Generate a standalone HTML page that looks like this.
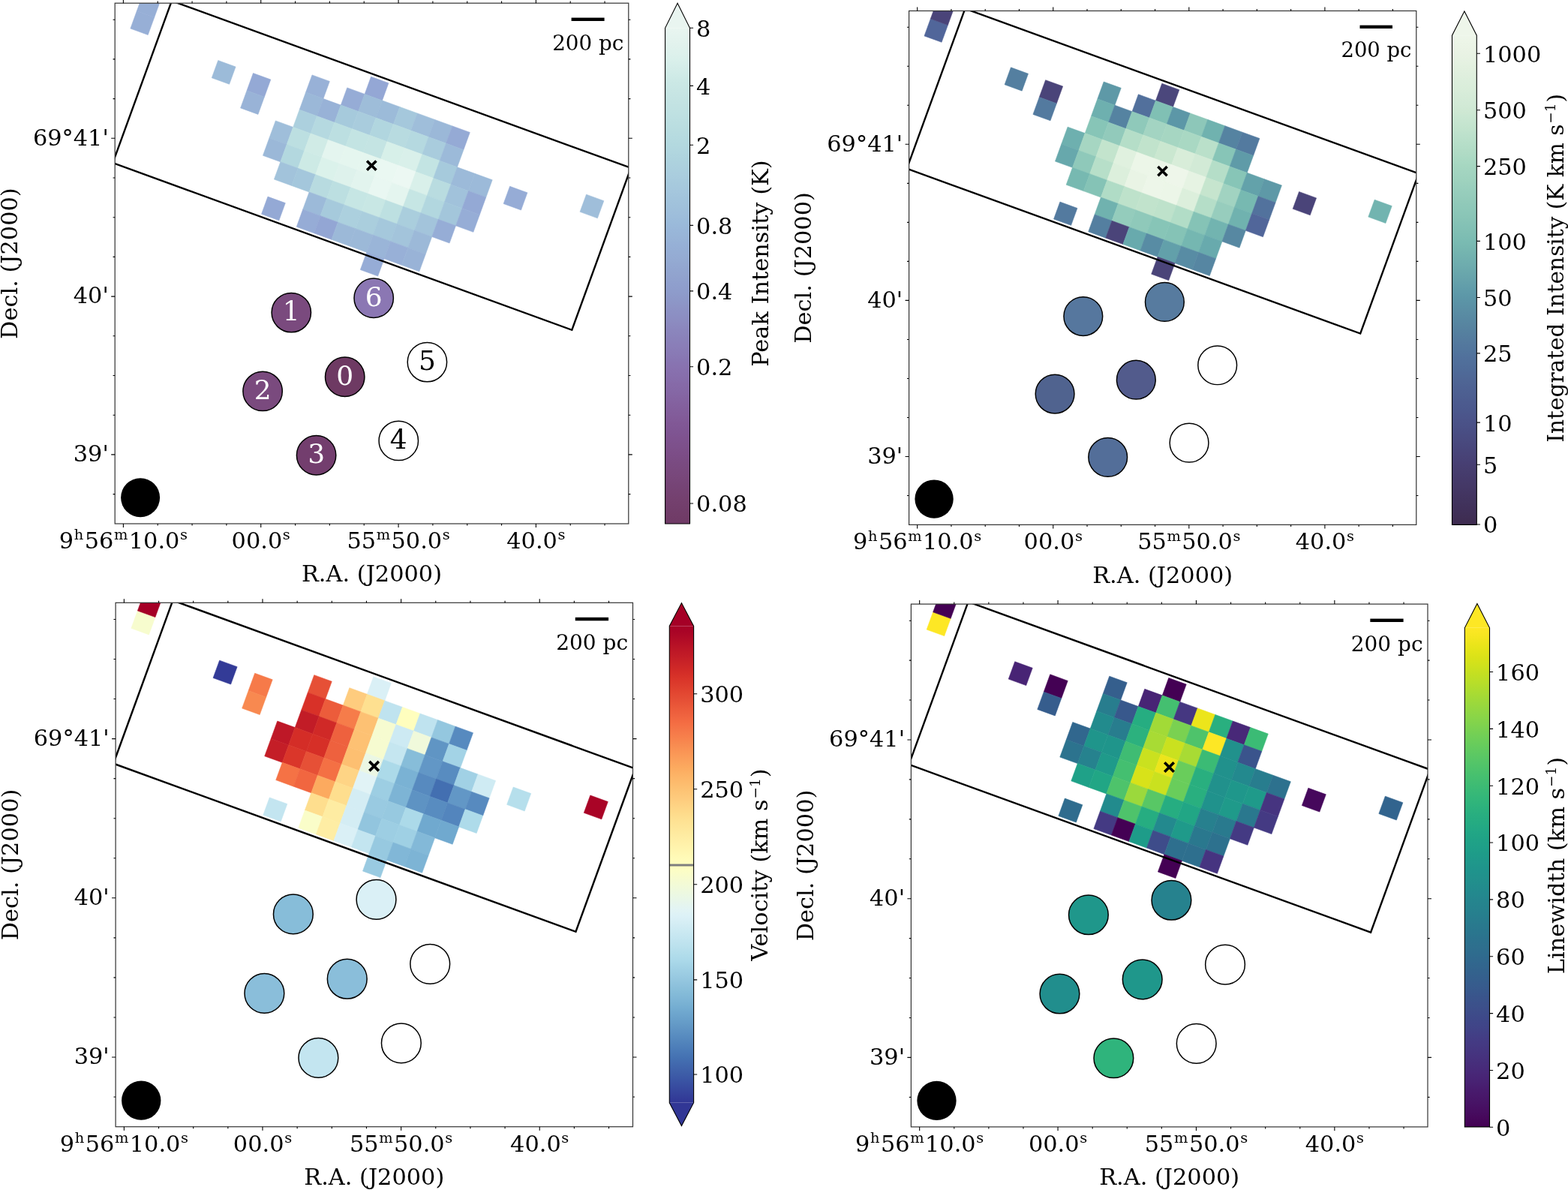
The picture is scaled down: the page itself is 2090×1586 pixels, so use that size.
<!DOCTYPE html><html><head><meta charset="utf-8"><title>Figure</title><style>html,body{margin:0;padding:0;background:#fff;}svg{display:block;}</style></head><body><svg xmlns="http://www.w3.org/2000/svg" width="2090" height="1586" viewBox="0 0 2090 1586" font-family="'DejaVu Serif', 'Liberation Serif', serif" fill="#000"><clipPath id="clip1"><rect x="153.2" y="4.2" width="684.6" height="693.8"/></clipPath>
<g clip-path="url(#clip1)"><g transform="matrix(1.00000,0,0,1.00000,0.000,0.000)">
<polygon points="494.54,102.25 517.91,110.75 509.48,133.92 486.11,125.42" fill="#94a7d5" stroke="#94a7d5" stroke-width="0.6"/>
<polygon points="416,99.9 439.37,108.41 430.94,131.58 407.57,123.07" fill="#98b1d7" stroke="#98b1d7" stroke-width="0.6"/>
<polygon points="462.74,116.91 486.11,125.42 477.68,148.59 454.31,140.08" fill="#96acd6" stroke="#96acd6" stroke-width="0.6"/>
<polygon points="486.11,125.42 509.48,133.92 501.05,157.1 477.68,148.59" fill="#9ebdd9" stroke="#9ebdd9" stroke-width="0.6"/>
<polygon points="509.48,133.92 532.85,142.43 524.42,165.6 501.05,157.1" fill="#9cbbd9" stroke="#9cbbd9" stroke-width="0.6"/>
<polygon points="532.85,142.43 556.22,150.94 547.79,174.11 524.42,165.6" fill="#a5c8dc" stroke="#a5c8dc" stroke-width="0.6"/>
<polygon points="556.22,150.94 579.59,159.44 571.16,182.62 547.79,174.11" fill="#9fbeda" stroke="#9fbeda" stroke-width="0.6"/>
<polygon points="579.59,159.44 602.96,167.95 594.53,191.12 571.16,182.62" fill="#9bb8d8" stroke="#9bb8d8" stroke-width="0.6"/>
<polygon points="602.96,167.95 626.33,176.45 617.9,199.63 594.53,191.12" fill="#95aad5" stroke="#95aad5" stroke-width="0.6"/>
<polygon points="407.57,123.07 430.94,131.58 422.5,154.75 399.13,146.25" fill="#9bb8d8" stroke="#9bb8d8" stroke-width="0.6"/>
<polygon points="430.94,131.58 454.31,140.08 445.87,163.26 422.5,154.75" fill="#98b2d7" stroke="#98b2d7" stroke-width="0.6"/>
<polygon points="454.31,140.08 477.68,148.59 469.24,171.76 445.87,163.26" fill="#a6cadc" stroke="#a6cadc" stroke-width="0.6"/>
<polygon points="477.68,148.59 501.05,157.1 492.61,180.27 469.24,171.76" fill="#a9ccdd" stroke="#a9ccdd" stroke-width="0.6"/>
<polygon points="501.05,157.1 524.42,165.6 515.98,188.78 492.61,180.27" fill="#b1d6df" stroke="#b1d6df" stroke-width="0.6"/>
<polygon points="524.42,165.6 547.79,174.11 539.35,197.28 515.98,188.78" fill="#b8dbe0" stroke="#b8dbe0" stroke-width="0.6"/>
<polygon points="547.79,174.11 571.16,182.62 562.72,205.79 539.35,197.28" fill="#b5d9e0" stroke="#b5d9e0" stroke-width="0.6"/>
<polygon points="571.16,182.62 594.53,191.12 586.09,214.29 562.72,205.79" fill="#a9ccdd" stroke="#a9ccdd" stroke-width="0.6"/>
<polygon points="594.53,191.12 617.9,199.63 609.46,222.8 586.09,214.29" fill="#9cbad9" stroke="#9cbad9" stroke-width="0.6"/>
<polygon points="399.13,146.25 422.5,154.75 414.07,177.92 390.7,169.42" fill="#acd0de" stroke="#acd0de" stroke-width="0.6"/>
<polygon points="422.5,154.75 445.87,163.26 437.44,186.43 414.07,177.92" fill="#b5d9e0" stroke="#b5d9e0" stroke-width="0.6"/>
<polygon points="445.87,163.26 469.24,171.76 460.81,194.94 437.44,186.43" fill="#bcdfe1" stroke="#bcdfe1" stroke-width="0.6"/>
<polygon points="469.24,171.76 492.61,180.27 484.18,203.44 460.81,194.94" fill="#c3e4e3" stroke="#c3e4e3" stroke-width="0.6"/>
<polygon points="492.61,180.27 515.98,188.78 507.55,211.95 484.18,203.44" fill="#c4e4e3" stroke="#c4e4e3" stroke-width="0.6"/>
<polygon points="515.98,188.78 539.35,197.28 530.92,220.45 507.55,211.95" fill="#d7f0e9" stroke="#d7f0e9" stroke-width="0.6"/>
<polygon points="539.35,197.28 562.72,205.79 554.29,228.96 530.92,220.45" fill="#d9f0ea" stroke="#d9f0ea" stroke-width="0.6"/>
<polygon points="562.72,205.79 586.09,214.29 577.66,237.47 554.29,228.96" fill="#c3e4e3" stroke="#c3e4e3" stroke-width="0.6"/>
<polygon points="586.09,214.29 609.46,222.8 601.03,245.97 577.66,237.47" fill="#a6cadc" stroke="#a6cadc" stroke-width="0.6"/>
<polygon points="609.46,222.8 632.83,231.31 624.4,254.48 601.03,245.97" fill="#9cbad9" stroke="#9cbad9" stroke-width="0.6"/>
<polygon points="632.83,231.31 656.2,239.81 647.77,262.98 624.4,254.48" fill="#9cbad9" stroke="#9cbad9" stroke-width="0.6"/>
<polygon points="367.33,160.91 390.7,169.42 382.26,192.59 358.89,184.09" fill="#9fbeda" stroke="#9fbeda" stroke-width="0.6"/>
<polygon points="390.7,169.42 414.07,177.92 405.63,201.1 382.26,192.59" fill="#bcdfe1" stroke="#bcdfe1" stroke-width="0.6"/>
<polygon points="414.07,177.92 437.44,186.43 429,209.6 405.63,201.1" fill="#d0ebe6" stroke="#d0ebe6" stroke-width="0.6"/>
<polygon points="437.44,186.43 460.81,194.94 452.37,218.11 429,209.6" fill="#e4f5ef" stroke="#e4f5ef" stroke-width="0.6"/>
<polygon points="460.81,194.94 484.18,203.44 475.74,226.62 452.37,218.11" fill="#e5f6ef" stroke="#e5f6ef" stroke-width="0.6"/>
<polygon points="484.18,203.44 507.55,211.95 499.11,235.12 475.74,226.62" fill="#e5f6ef" stroke="#e5f6ef" stroke-width="0.6"/>
<polygon points="507.55,211.95 530.92,220.45 522.48,243.63 499.11,235.12" fill="#eaf8f2" stroke="#eaf8f2" stroke-width="0.6"/>
<polygon points="530.92,220.45 554.29,228.96 545.85,252.13 522.48,243.63" fill="#ecf8f3" stroke="#ecf8f3" stroke-width="0.6"/>
<polygon points="554.29,228.96 577.66,237.47 569.22,260.64 545.85,252.13" fill="#d9f0ea" stroke="#d9f0ea" stroke-width="0.6"/>
<polygon points="577.66,237.47 601.03,245.97 592.59,269.15 569.22,260.64" fill="#b9dce0" stroke="#b9dce0" stroke-width="0.6"/>
<polygon points="601.03,245.97 624.4,254.48 615.96,277.65 592.59,269.15" fill="#a1c2db" stroke="#a1c2db" stroke-width="0.6"/>
<polygon points="624.4,254.48 647.77,262.98 639.33,286.16 615.96,277.65" fill="#94a9d5" stroke="#94a9d5" stroke-width="0.6"/>
<polygon points="358.89,184.09 382.26,192.59 373.83,215.76 350.46,207.26" fill="#9bb8d8" stroke="#9bb8d8" stroke-width="0.6"/>
<polygon points="382.26,192.59 405.63,201.1 397.2,224.27 373.83,215.76" fill="#b3d8df" stroke="#b3d8df" stroke-width="0.6"/>
<polygon points="405.63,201.1 429,209.6 420.57,232.78 397.2,224.27" fill="#cdeae5" stroke="#cdeae5" stroke-width="0.6"/>
<polygon points="429,209.6 452.37,218.11 443.94,241.28 420.57,232.78" fill="#dbf2eb" stroke="#dbf2eb" stroke-width="0.6"/>
<polygon points="452.37,218.11 475.74,226.62 467.31,249.79 443.94,241.28" fill="#def2ec" stroke="#def2ec" stroke-width="0.6"/>
<polygon points="475.74,226.62 499.11,235.12 490.68,258.29 467.31,249.79" fill="#e2f4ee" stroke="#e2f4ee" stroke-width="0.6"/>
<polygon points="499.11,235.12 522.48,243.63 514.05,266.8 490.68,258.29" fill="#e9f7f2" stroke="#e9f7f2" stroke-width="0.6"/>
<polygon points="522.48,243.63 545.85,252.13 537.42,275.31 514.05,266.8" fill="#e4f5ef" stroke="#e4f5ef" stroke-width="0.6"/>
<polygon points="545.85,252.13 569.22,260.64 560.79,283.81 537.42,275.31" fill="#c6e6e4" stroke="#c6e6e4" stroke-width="0.6"/>
<polygon points="569.22,260.64 592.59,269.15 584.16,292.32 560.79,283.81" fill="#b2d7df" stroke="#b2d7df" stroke-width="0.6"/>
<polygon points="592.59,269.15 615.96,277.65 607.53,300.82 584.16,292.32" fill="#a3c6db" stroke="#a3c6db" stroke-width="0.6"/>
<polygon points="615.96,277.65 639.33,286.16 630.9,309.33 607.53,300.82" fill="#96add6" stroke="#96add6" stroke-width="0.6"/>
<polygon points="373.83,215.76 397.2,224.27 388.76,247.44 365.39,238.94" fill="#a2c3db" stroke="#a2c3db" stroke-width="0.6"/>
<polygon points="397.2,224.27 420.57,232.78 412.14,255.95 388.76,247.44" fill="#a4c7dc" stroke="#a4c7dc" stroke-width="0.6"/>
<polygon points="420.57,232.78 443.94,241.28 435.51,264.46 412.14,255.95" fill="#b8dbe0" stroke="#b8dbe0" stroke-width="0.6"/>
<polygon points="443.94,241.28 467.31,249.79 458.88,272.96 435.51,264.46" fill="#bcdfe1" stroke="#bcdfe1" stroke-width="0.6"/>
<polygon points="467.31,249.79 490.68,258.29 482.25,281.47 458.88,272.96" fill="#c6e6e4" stroke="#c6e6e4" stroke-width="0.6"/>
<polygon points="490.68,258.29 514.05,266.8 505.62,289.97 482.25,281.47" fill="#c8e7e4" stroke="#c8e7e4" stroke-width="0.6"/>
<polygon points="514.05,266.8 537.42,275.31 528.99,298.48 505.62,289.97" fill="#bde0e1" stroke="#bde0e1" stroke-width="0.6"/>
<polygon points="537.42,275.31 560.79,283.81 552.36,306.99 528.99,298.48" fill="#aacedd" stroke="#aacedd" stroke-width="0.6"/>
<polygon points="560.79,283.81 584.16,292.32 575.73,315.49 552.36,306.99" fill="#a3c4db" stroke="#a3c4db" stroke-width="0.6"/>
<polygon points="584.16,292.32 607.53,300.82 599.1,324 575.73,315.49" fill="#96add6" stroke="#96add6" stroke-width="0.6"/>
<polygon points="412.14,255.95 435.51,264.46 427.07,287.63 403.7,279.12" fill="#9cbad9" stroke="#9cbad9" stroke-width="0.6"/>
<polygon points="435.51,264.46 458.88,272.96 450.44,296.13 427.07,287.63" fill="#a6cadc" stroke="#a6cadc" stroke-width="0.6"/>
<polygon points="458.88,272.96 482.25,281.47 473.81,304.64 450.44,296.13" fill="#acd0de" stroke="#acd0de" stroke-width="0.6"/>
<polygon points="482.25,281.47 505.62,289.97 497.18,313.15 473.81,304.64" fill="#aacedd" stroke="#aacedd" stroke-width="0.6"/>
<polygon points="505.62,289.97 528.99,298.48 520.55,321.65 497.18,313.15" fill="#a5c8dc" stroke="#a5c8dc" stroke-width="0.6"/>
<polygon points="528.99,298.48 552.36,306.99 543.92,330.16 520.55,321.65" fill="#a3c4db" stroke="#a3c4db" stroke-width="0.6"/>
<polygon points="552.36,306.99 575.73,315.49 567.29,338.66 543.92,330.16" fill="#9cb9d8" stroke="#9cb9d8" stroke-width="0.6"/>
<polygon points="403.7,279.12 427.07,287.63 418.64,310.8 395.27,302.29" fill="#96acd6" stroke="#96acd6" stroke-width="0.6"/>
<polygon points="427.07,287.63 450.44,296.13 442.01,319.31 418.64,310.8" fill="#93a6d4" stroke="#93a6d4" stroke-width="0.6"/>
<polygon points="450.44,296.13 473.81,304.64 465.38,327.81 442.01,319.31" fill="#9cb9d8" stroke="#9cb9d8" stroke-width="0.6"/>
<polygon points="473.81,304.64 497.18,313.15 488.75,336.32 465.38,327.81" fill="#9cb9d8" stroke="#9cb9d8" stroke-width="0.6"/>
<polygon points="497.18,313.15 520.55,321.65 512.12,344.82 488.75,336.32" fill="#9ab5d8" stroke="#9ab5d8" stroke-width="0.6"/>
<polygon points="520.55,321.65 543.92,330.16 535.49,353.33 512.12,344.82" fill="#98b0d7" stroke="#98b0d7" stroke-width="0.6"/>
<polygon points="543.92,330.16 567.29,338.66 558.86,361.84 535.49,353.33" fill="#99b3d7" stroke="#99b3d7" stroke-width="0.6"/>
<polygon points="488.75,336.32 512.12,344.82 503.68,368 480.31,359.49" fill="#96acd6" stroke="#96acd6" stroke-width="0.6"/>
<polygon points="356.96,262.11 380.33,270.62 371.9,293.79 348.53,285.28" fill="#94a9d5" stroke="#94a9d5" stroke-width="0.6"/>
<polygon points="337.46,97.55 360.83,106.06 352.39,129.23 329.02,120.73" fill="#94a9d5" stroke="#94a9d5" stroke-width="0.6"/>
<polygon points="329.02,120.73 352.39,129.23 343.96,152.41 320.59,143.9" fill="#99b3d7" stroke="#99b3d7" stroke-width="0.6"/>
<polygon points="290.72,80.54 314.09,89.05 305.65,112.22 282.28,103.72" fill="#9cbbd9" stroke="#9cbbd9" stroke-width="0.6"/>
<polygon points="679.57,248.32 702.94,256.82 694.51,280 671.14,271.49" fill="#96acd6" stroke="#96acd6" stroke-width="0.6"/>
<polygon points="781.49,259.17 804.86,267.68 796.42,290.85 773.05,282.34" fill="#9fbeda" stroke="#9fbeda" stroke-width="0.6"/>
<polygon points="182.3,14.84 205.67,23.35 197.23,46.52 173.86,38.01" fill="#97afd6" stroke="#97afd6" stroke-width="0.6"/>
<polygon points="190.73,-8.33 214.1,0.17 205.67,23.35 182.3,14.84" fill="#97afd6" stroke="#97afd6" stroke-width="0.6"/>
<polygon points="228.9,1.2 840.9,223.9 762.3,439.8 150.3,217.1" fill="none" stroke="#000" stroke-width="2.4" stroke-linejoin="miter"/>
<circle cx="388.3" cy="416.6" r="26.2" fill="#7a4a7e" stroke="#000" stroke-width="1.5"/>
<text x="388.3" y="427.1" font-size="36" text-anchor="middle" fill="#ffffff">1</text>
<circle cx="498.2" cy="397.2" r="26.2" fill="#8b77b3" stroke="#000" stroke-width="1.5"/>
<text x="498.2" y="407.7" font-size="36" text-anchor="middle" fill="#ffffff">6</text>
<circle cx="569.4" cy="482.6" r="26.2" fill="#ffffff" stroke="#000" stroke-width="1.5"/>
<text x="569.4" y="493.1" font-size="36" text-anchor="middle" fill="#000000">5</text>
<circle cx="459.7" cy="502.3" r="26.2" fill="#6e3a63" stroke="#000" stroke-width="1.5"/>
<text x="459.7" y="512.8" font-size="36" text-anchor="middle" fill="#ffffff">0</text>
<circle cx="350.1" cy="521.4" r="26.2" fill="#7a4a7e" stroke="#000" stroke-width="1.5"/>
<text x="350.1" y="531.9" font-size="36" text-anchor="middle" fill="#ffffff">2</text>
<circle cx="531.3" cy="587.4" r="26.2" fill="#ffffff" stroke="#000" stroke-width="1.5"/>
<text x="531.3" y="597.9" font-size="36" text-anchor="middle" fill="#000000">4</text>
<circle cx="421.6" cy="606.8" r="26.2" fill="#733e6e" stroke="#000" stroke-width="1.5"/>
<text x="421.6" y="617.3" font-size="36" text-anchor="middle" fill="#ffffff">3</text>
<path d="M489.1,214.4L501.5,226.8M489.1,226.8L501.5,214.4" stroke="#000" stroke-width="3.6"/>
<circle cx="187.1" cy="663.2" r="26.0" fill="#000"/>
<rect x="761.6" y="23.6" width="44" height="4.4" fill="#000"/>
<text x="783.8" y="66.6" font-size="27.8" text-anchor="middle" >200 pc</text>
</g></g>
<rect x="153.2" y="4.2" width="684.6" height="693.8" fill="none" stroke="#333" stroke-width="1.2"/>
<text x="164.4" y="730.8" font-size="30.4" text-anchor="middle" >9<tspan dx="0.6" dy="-11.7" font-size="19.46">h</tspan><tspan dx="1.4" dy="11.7">56<tspan dx="0.6" dy="-11.7" font-size="19.46">m</tspan><tspan dx="1.4" dy="11.7">10.0<tspan dx="0.6" dy="-11.7" font-size="19.46">s</tspan><tspan dx="1.4" dy="11.7"></tspan></tspan></tspan></text>
<text x="347.73" y="730.8" font-size="30.4" text-anchor="middle" >00.0<tspan dx="0.6" dy="-11.7" font-size="19.46">s</tspan><tspan dx="1.4" dy="11.7"></tspan></text>
<text x="531.06" y="730.8" font-size="30.4" text-anchor="middle" >55<tspan dx="0.6" dy="-11.7" font-size="19.46">m</tspan><tspan dx="1.4" dy="11.7">50.0<tspan dx="0.6" dy="-11.7" font-size="19.46">s</tspan><tspan dx="1.4" dy="11.7"></tspan></tspan></text>
<text x="714.39" y="730.8" font-size="30.4" text-anchor="middle" >40.0<tspan dx="0.6" dy="-11.7" font-size="19.46">s</tspan><tspan dx="1.4" dy="11.7"></tspan></text>
<text x="144.8" y="193.51" font-size="30.4" text-anchor="end" >69°41'</text>
<text x="144.8" y="404.31" font-size="30.4" text-anchor="end" >40'</text>
<text x="144.8" y="615.12" font-size="30.4" text-anchor="end" >39'</text>
<path d="M164.4,698v5M164.4,4.2v-5M210.23,698v2.6M210.23,4.2v-2.6M256.07,698v2.6M256.07,4.2v-2.6M301.9,698v2.6M301.9,4.2v-2.6M347.73,698v5M347.73,4.2v-5M393.56,698v2.6M393.56,4.2v-2.6M439.4,698v2.6M439.4,4.2v-2.6M485.23,698v2.6M485.23,4.2v-2.6M531.06,698v5M531.06,4.2v-5M576.89,698v2.6M576.89,4.2v-2.6M622.73,698v2.6M622.73,4.2v-2.6M668.56,698v2.6M668.56,4.2v-2.6M714.39,698v5M714.39,4.2v-5M760.22,698v2.6M760.22,4.2v-2.6M806.06,698v2.6M806.06,4.2v-2.6M153.2,26.21h-2.6M837.8,26.21h2.6M153.2,78.91h-2.6M837.8,78.91h2.6M153.2,131.61h-2.6M837.8,131.61h2.6M153.2,184.31h-5M837.8,184.31h5M153.2,237.01h-2.6M837.8,237.01h2.6M153.2,289.71h-2.6M837.8,289.71h2.6M153.2,342.41h-2.6M837.8,342.41h2.6M153.2,395.11h-5M837.8,395.11h5M153.2,447.82h-2.6M837.8,447.82h2.6M153.2,500.52h-2.6M837.8,500.52h2.6M153.2,553.22h-2.6M837.8,553.22h2.6M153.2,605.92h-5M837.8,605.92h5M153.2,658.62h-2.6M837.8,658.62h2.6" stroke="#000" stroke-width="1.1" fill="none"/>
<text x="495.5" y="775.2" font-size="30.4" text-anchor="middle" >R.A. (J2000)</text>
<text x="0" y="0" font-size="30.4" text-anchor="middle" transform="translate(22.9,351.1) rotate(-90)">Decl. (J2000)</text>
<linearGradient id="cg1" x1="0" y1="698" x2="0" y2="37.3" gradientUnits="userSpaceOnUse"><stop offset="0.0000" stop-color="#6f3a66"/><stop offset="0.0156" stop-color="#713c68"/><stop offset="0.0312" stop-color="#723e6b"/><stop offset="0.0469" stop-color="#74406e"/><stop offset="0.0625" stop-color="#754272"/><stop offset="0.0781" stop-color="#764476"/><stop offset="0.0938" stop-color="#78477a"/><stop offset="0.1094" stop-color="#79497e"/><stop offset="0.1250" stop-color="#7a4b82"/><stop offset="0.1406" stop-color="#7c4d87"/><stop offset="0.1562" stop-color="#7d508b"/><stop offset="0.1719" stop-color="#7e528f"/><stop offset="0.1875" stop-color="#7f5593"/><stop offset="0.2031" stop-color="#815896"/><stop offset="0.2188" stop-color="#825c9a"/><stop offset="0.2344" stop-color="#835f9d"/><stop offset="0.2500" stop-color="#8463a1"/><stop offset="0.2656" stop-color="#8567a5"/><stop offset="0.2812" stop-color="#866aa8"/><stop offset="0.2969" stop-color="#876eac"/><stop offset="0.3125" stop-color="#8871af"/><stop offset="0.3281" stop-color="#8875b2"/><stop offset="0.3438" stop-color="#897ab5"/><stop offset="0.3594" stop-color="#8a7eb8"/><stop offset="0.3750" stop-color="#8a82ba"/><stop offset="0.3906" stop-color="#8b86bd"/><stop offset="0.4062" stop-color="#8c8bc0"/><stop offset="0.4219" stop-color="#8c8fc3"/><stop offset="0.4375" stop-color="#8d93c5"/><stop offset="0.4531" stop-color="#8d98c8"/><stop offset="0.4688" stop-color="#8e9ccb"/><stop offset="0.4844" stop-color="#8f9fcd"/><stop offset="0.5000" stop-color="#91a3ce"/><stop offset="0.5156" stop-color="#92a6d0"/><stop offset="0.5312" stop-color="#94aad2"/><stop offset="0.5469" stop-color="#95add4"/><stop offset="0.5625" stop-color="#96b0d6"/><stop offset="0.5781" stop-color="#98b4d7"/><stop offset="0.5938" stop-color="#99b7d9"/><stop offset="0.6094" stop-color="#9bbbda"/><stop offset="0.6250" stop-color="#9ebedb"/><stop offset="0.6406" stop-color="#a0c1db"/><stop offset="0.6562" stop-color="#a2c4dc"/><stop offset="0.6719" stop-color="#a5c7dd"/><stop offset="0.6875" stop-color="#a7cadd"/><stop offset="0.7031" stop-color="#aacdde"/><stop offset="0.7188" stop-color="#acd0de"/><stop offset="0.7344" stop-color="#aed3de"/><stop offset="0.7500" stop-color="#b1d6df"/><stop offset="0.7656" stop-color="#b3d9df"/><stop offset="0.7812" stop-color="#b6dbe0"/><stop offset="0.7969" stop-color="#b9dde0"/><stop offset="0.8125" stop-color="#bcdfe1"/><stop offset="0.8281" stop-color="#bfe1e2"/><stop offset="0.8438" stop-color="#c2e2e2"/><stop offset="0.8594" stop-color="#c5e4e3"/><stop offset="0.8750" stop-color="#c8e6e4"/><stop offset="0.8906" stop-color="#cbe8e5"/><stop offset="0.9062" stop-color="#d0ebe7"/><stop offset="0.9219" stop-color="#d5ede9"/><stop offset="0.9375" stop-color="#daf0eb"/><stop offset="0.9531" stop-color="#def1ec"/><stop offset="0.9688" stop-color="#e2f2ed"/><stop offset="0.9844" stop-color="#e5f4ef"/><stop offset="1.0000" stop-color="#e9f5f0"/></linearGradient>
<rect x="886.6" y="37.3" width="32.9" height="660.7" fill="url(#cg1)"/>
<polygon points="886.6,37.3 903.05,4.2 919.5,37.3" fill="#e9f5f0"/>
<path d="M886.6,698L919.5,698L919.5,37.3L903.05,4.2L886.6,37.3Z" fill="none" stroke="#000" stroke-width="1.1" stroke-linejoin="miter"/>
<text x="928.1" y="48.7" font-size="30.4" text-anchor="start" >8</text>
<text x="928.1" y="125.8" font-size="30.4" text-anchor="start" >4</text>
<text x="928.1" y="204.7" font-size="30.4" text-anchor="start" >2</text>
<text x="928.1" y="311.8" font-size="30.4" text-anchor="start" >0.8</text>
<text x="928.1" y="399.3" font-size="30.4" text-anchor="start" >0.4</text>
<text x="928.1" y="500.1" font-size="30.4" text-anchor="start" >0.2</text>
<text x="928.1" y="682.4" font-size="30.4" text-anchor="start" >0.08</text>
<path d="M919.5,37.3h4.6M919.5,114.4h4.6M919.5,193.3h4.6M919.5,300.4h4.6M919.5,387.9h4.6M919.5,488.7h4.6M919.5,671h4.6" stroke="#000" stroke-width="1.1"/>
<text x="0" y="0" font-size="30.4" text-anchor="middle" transform="translate(1023.8,351.1) rotate(-90)">Peak Intensity (K)</text>
<clipPath id="clip2"><rect x="1211.6" y="14.5" width="676.2" height="684.9"/></clipPath>
<g clip-path="url(#clip2)"><g transform="matrix(0.98773,0,0,0.98717,1060.280,10.354)">
<polygon points="494.54,102.25 517.91,110.75 509.48,133.92 486.11,125.42" fill="#4b477c" stroke="#4b477c" stroke-width="0.6"/>
<polygon points="416,99.9 439.37,108.41 430.94,131.58 407.57,123.07" fill="#5e99a7" stroke="#5e99a7" stroke-width="0.6"/>
<polygon points="462.74,116.91 486.11,125.42 477.68,148.59 454.31,140.08" fill="#52709c" stroke="#52709c" stroke-width="0.6"/>
<polygon points="486.11,125.42 509.48,133.92 501.05,157.1 477.68,148.59" fill="#80c0b4" stroke="#80c0b4" stroke-width="0.6"/>
<polygon points="509.48,133.92 532.85,142.43 524.42,165.6 501.05,157.1" fill="#5c97a7" stroke="#5c97a7" stroke-width="0.6"/>
<polygon points="532.85,142.43 556.22,150.94 547.79,174.11 524.42,165.6" fill="#8dc7b9" stroke="#8dc7b9" stroke-width="0.6"/>
<polygon points="556.22,150.94 579.59,159.44 571.16,182.62 547.79,174.11" fill="#70b2af" stroke="#70b2af" stroke-width="0.6"/>
<polygon points="579.59,159.44 602.96,167.95 594.53,191.12 571.16,182.62" fill="#5583a1" stroke="#5583a1" stroke-width="0.6"/>
<polygon points="602.96,167.95 626.33,176.45 617.9,199.63 594.53,191.12" fill="#537a9f" stroke="#537a9f" stroke-width="0.6"/>
<polygon points="407.57,123.07 430.94,131.58 422.5,154.75 399.13,146.25" fill="#6eb0af" stroke="#6eb0af" stroke-width="0.6"/>
<polygon points="430.94,131.58 454.31,140.08 445.87,163.26 422.5,154.75" fill="#5583a1" stroke="#5583a1" stroke-width="0.6"/>
<polygon points="454.31,140.08 477.68,148.59 469.24,171.76 445.87,163.26" fill="#8fc9ba" stroke="#8fc9ba" stroke-width="0.6"/>
<polygon points="477.68,148.59 501.05,157.1 492.61,180.27 469.24,171.76" fill="#a3d4c2" stroke="#a3d4c2" stroke-width="0.6"/>
<polygon points="501.05,157.1 524.42,165.6 515.98,188.78 492.61,180.27" fill="#a6d6c2" stroke="#a6d6c2" stroke-width="0.6"/>
<polygon points="524.42,165.6 547.79,174.11 539.35,197.28 515.98,188.78" fill="#a9d8c3" stroke="#a9d8c3" stroke-width="0.6"/>
<polygon points="547.79,174.11 571.16,182.62 562.72,205.79 539.35,197.28" fill="#bae0ca" stroke="#bae0ca" stroke-width="0.6"/>
<polygon points="571.16,182.62 594.53,191.12 586.09,214.29 562.72,205.79" fill="#87c5b7" stroke="#87c5b7" stroke-width="0.6"/>
<polygon points="594.53,191.12 617.9,199.63 609.46,222.8 586.09,214.29" fill="#5f9ba8" stroke="#5f9ba8" stroke-width="0.6"/>
<polygon points="399.13,146.25 422.5,154.75 414.07,177.92 390.7,169.42" fill="#87c5b7" stroke="#87c5b7" stroke-width="0.6"/>
<polygon points="422.5,154.75 445.87,163.26 437.44,186.43 414.07,177.92" fill="#92cabb" stroke="#92cabb" stroke-width="0.6"/>
<polygon points="445.87,163.26 469.24,171.76 460.81,194.94 437.44,186.43" fill="#b5dec8" stroke="#b5dec8" stroke-width="0.6"/>
<polygon points="469.24,171.76 492.61,180.27 484.18,203.44 460.81,194.94" fill="#c1e3cc" stroke="#c1e3cc" stroke-width="0.6"/>
<polygon points="492.61,180.27 515.98,188.78 507.55,211.95 484.18,203.44" fill="#cae7d0" stroke="#cae7d0" stroke-width="0.6"/>
<polygon points="515.98,188.78 539.35,197.28 530.92,220.45 507.55,211.95" fill="#d8edd9" stroke="#d8edd9" stroke-width="0.6"/>
<polygon points="539.35,197.28 562.72,205.79 554.29,228.96 530.92,220.45" fill="#d2ead6" stroke="#d2ead6" stroke-width="0.6"/>
<polygon points="562.72,205.79 586.09,214.29 577.66,237.47 554.29,228.96" fill="#b5dec8" stroke="#b5dec8" stroke-width="0.6"/>
<polygon points="586.09,214.29 609.46,222.8 601.03,245.97 577.66,237.47" fill="#87c5b7" stroke="#87c5b7" stroke-width="0.6"/>
<polygon points="609.46,222.8 632.83,231.31 624.4,254.48 601.03,245.97" fill="#63a2aa" stroke="#63a2aa" stroke-width="0.6"/>
<polygon points="632.83,231.31 656.2,239.81 647.77,262.98 624.4,254.48" fill="#5e99a7" stroke="#5e99a7" stroke-width="0.6"/>
<polygon points="367.33,160.91 390.7,169.42 382.26,192.59 358.89,184.09" fill="#6eb0af" stroke="#6eb0af" stroke-width="0.6"/>
<polygon points="390.7,169.42 414.07,177.92 405.63,201.1 382.26,192.59" fill="#a6d6c2" stroke="#a6d6c2" stroke-width="0.6"/>
<polygon points="414.07,177.92 437.44,186.43 429,209.6 405.63,201.1" fill="#c3e4cd" stroke="#c3e4cd" stroke-width="0.6"/>
<polygon points="437.44,186.43 460.81,194.94 452.37,218.11 429,209.6" fill="#e0f1df" stroke="#e0f1df" stroke-width="0.6"/>
<polygon points="460.81,194.94 484.18,203.44 475.74,226.62 452.37,218.11" fill="#ecf6e8" stroke="#ecf6e8" stroke-width="0.6"/>
<polygon points="484.18,203.44 507.55,211.95 499.11,235.12 475.74,226.62" fill="#ecf6e8" stroke="#ecf6e8" stroke-width="0.6"/>
<polygon points="507.55,211.95 530.92,220.45 522.48,243.63 499.11,235.12" fill="#eef6ea" stroke="#eef6ea" stroke-width="0.6"/>
<polygon points="530.92,220.45 554.29,228.96 545.85,252.13 522.48,243.63" fill="#e6f3e3" stroke="#e6f3e3" stroke-width="0.6"/>
<polygon points="554.29,228.96 577.66,237.47 569.22,260.64 545.85,252.13" fill="#c6e5ce" stroke="#c6e5ce" stroke-width="0.6"/>
<polygon points="577.66,237.47 601.03,245.97 592.59,269.15 569.22,260.64" fill="#a1d3c1" stroke="#a1d3c1" stroke-width="0.6"/>
<polygon points="601.03,245.97 624.4,254.48 615.96,277.65 592.59,269.15" fill="#77b9b1" stroke="#77b9b1" stroke-width="0.6"/>
<polygon points="624.4,254.48 647.77,262.98 639.33,286.16 615.96,277.65" fill="#52729d" stroke="#52729d" stroke-width="0.6"/>
<polygon points="358.89,184.09 382.26,192.59 373.83,215.76 350.46,207.26" fill="#67a8ac" stroke="#67a8ac" stroke-width="0.6"/>
<polygon points="382.26,192.59 405.63,201.1 397.2,224.27 373.83,215.76" fill="#8fc9ba" stroke="#8fc9ba" stroke-width="0.6"/>
<polygon points="405.63,201.1 429,209.6 420.57,232.78 397.2,224.27" fill="#b7dfc9" stroke="#b7dfc9" stroke-width="0.6"/>
<polygon points="429,209.6 452.37,218.11 443.94,241.28 420.57,232.78" fill="#dcefdc" stroke="#dcefdc" stroke-width="0.6"/>
<polygon points="452.37,218.11 475.74,226.62 467.31,249.79 443.94,241.28" fill="#e9f4e5" stroke="#e9f4e5" stroke-width="0.6"/>
<polygon points="475.74,226.62 499.11,235.12 490.68,258.29 467.31,249.79" fill="#edf6e9" stroke="#edf6e9" stroke-width="0.6"/>
<polygon points="499.11,235.12 522.48,243.63 514.05,266.8 490.68,258.29" fill="#ecf6e8" stroke="#ecf6e8" stroke-width="0.6"/>
<polygon points="522.48,243.63 545.85,252.13 537.42,275.31 514.05,266.8" fill="#dcefdc" stroke="#dcefdc" stroke-width="0.6"/>
<polygon points="545.85,252.13 569.22,260.64 560.79,283.81 537.42,275.31" fill="#b5dec8" stroke="#b5dec8" stroke-width="0.6"/>
<polygon points="569.22,260.64 592.59,269.15 584.16,292.32 560.79,283.81" fill="#97cdbd" stroke="#97cdbd" stroke-width="0.6"/>
<polygon points="592.59,269.15 615.96,277.65 607.53,300.82 584.16,292.32" fill="#70b2af" stroke="#70b2af" stroke-width="0.6"/>
<polygon points="615.96,277.65 639.33,286.16 630.9,309.33 607.53,300.82" fill="#51669a" stroke="#51669a" stroke-width="0.6"/>
<polygon points="373.83,215.76 397.2,224.27 388.76,247.44 365.39,238.94" fill="#77b9b1" stroke="#77b9b1" stroke-width="0.6"/>
<polygon points="397.2,224.27 420.57,232.78 412.14,255.95 388.76,247.44" fill="#85c3b6" stroke="#85c3b6" stroke-width="0.6"/>
<polygon points="420.57,232.78 443.94,241.28 435.51,264.46 412.14,255.95" fill="#b0dcc6" stroke="#b0dcc6" stroke-width="0.6"/>
<polygon points="443.94,241.28 467.31,249.79 458.88,272.96 435.51,264.46" fill="#bee2cb" stroke="#bee2cb" stroke-width="0.6"/>
<polygon points="467.31,249.79 490.68,258.29 482.25,281.47 458.88,272.96" fill="#c1e3cc" stroke="#c1e3cc" stroke-width="0.6"/>
<polygon points="490.68,258.29 514.05,266.8 505.62,289.97 482.25,281.47" fill="#bee2cb" stroke="#bee2cb" stroke-width="0.6"/>
<polygon points="514.05,266.8 537.42,275.31 528.99,298.48 505.62,289.97" fill="#b2ddc7" stroke="#b2ddc7" stroke-width="0.6"/>
<polygon points="537.42,275.31 560.79,283.81 552.36,306.99 528.99,298.48" fill="#85c3b6" stroke="#85c3b6" stroke-width="0.6"/>
<polygon points="560.79,283.81 584.16,292.32 575.73,315.49 552.36,306.99" fill="#72b4b0" stroke="#72b4b0" stroke-width="0.6"/>
<polygon points="584.16,292.32 607.53,300.82 599.1,324 575.73,315.49" fill="#5788a2" stroke="#5788a2" stroke-width="0.6"/>
<polygon points="412.14,255.95 435.51,264.46 427.07,287.63 403.7,279.12" fill="#70b2af" stroke="#70b2af" stroke-width="0.6"/>
<polygon points="435.51,264.46 458.88,272.96 450.44,296.13 427.07,287.63" fill="#94ccbc" stroke="#94ccbc" stroke-width="0.6"/>
<polygon points="458.88,272.96 482.25,281.47 473.81,304.64 450.44,296.13" fill="#8fc9ba" stroke="#8fc9ba" stroke-width="0.6"/>
<polygon points="482.25,281.47 505.62,289.97 497.18,313.15 473.81,304.64" fill="#87c5b7" stroke="#87c5b7" stroke-width="0.6"/>
<polygon points="505.62,289.97 528.99,298.48 520.55,321.65 497.18,313.15" fill="#85c3b6" stroke="#85c3b6" stroke-width="0.6"/>
<polygon points="528.99,298.48 552.36,306.99 543.92,330.16 520.55,321.65" fill="#75b7b1" stroke="#75b7b1" stroke-width="0.6"/>
<polygon points="552.36,306.99 575.73,315.49 567.29,338.66 543.92,330.16" fill="#68aaad" stroke="#68aaad" stroke-width="0.6"/>
<polygon points="403.7,279.12 427.07,287.63 418.64,310.8 395.27,302.29" fill="#547fa0" stroke="#547fa0" stroke-width="0.6"/>
<polygon points="427.07,287.63 450.44,296.13 442.01,319.31 418.64,310.8" fill="#4a4479" stroke="#4a4479" stroke-width="0.6"/>
<polygon points="450.44,296.13 473.81,304.64 465.38,327.81 442.01,319.31" fill="#68aaad" stroke="#68aaad" stroke-width="0.6"/>
<polygon points="473.81,304.64 497.18,313.15 488.75,336.32 465.38,327.81" fill="#588ca4" stroke="#588ca4" stroke-width="0.6"/>
<polygon points="497.18,313.15 520.55,321.65 512.12,344.82 488.75,336.32" fill="#62a0aa" stroke="#62a0aa" stroke-width="0.6"/>
<polygon points="520.55,321.65 543.92,330.16 535.49,353.33 512.12,344.82" fill="#588ca4" stroke="#588ca4" stroke-width="0.6"/>
<polygon points="543.92,330.16 567.29,338.66 558.86,361.84 535.49,353.33" fill="#5686a2" stroke="#5686a2" stroke-width="0.6"/>
<polygon points="488.75,336.32 512.12,344.82 503.68,368 480.31,359.49" fill="#4a4479" stroke="#4a4479" stroke-width="0.6"/>
<polygon points="356.96,262.11 380.33,270.62 371.9,293.79 348.53,285.28" fill="#537a9f" stroke="#537a9f" stroke-width="0.6"/>
<polygon points="337.46,97.55 360.83,106.06 352.39,129.23 329.02,120.73" fill="#4a4479" stroke="#4a4479" stroke-width="0.6"/>
<polygon points="329.02,120.73 352.39,129.23 343.96,152.41 320.59,143.9" fill="#537a9f" stroke="#537a9f" stroke-width="0.6"/>
<polygon points="290.72,80.54 314.09,89.05 305.65,112.22 282.28,103.72" fill="#547fa0" stroke="#547fa0" stroke-width="0.6"/>
<polygon points="679.57,248.32 702.94,256.82 694.51,280 671.14,271.49" fill="#4a4479" stroke="#4a4479" stroke-width="0.6"/>
<polygon points="781.49,259.17 804.86,267.68 796.42,290.85 773.05,282.34" fill="#72b4b0" stroke="#72b4b0" stroke-width="0.6"/>
<polygon points="182.3,14.84 205.67,23.35 197.23,46.52 173.86,38.01" fill="#51669a" stroke="#51669a" stroke-width="0.6"/>
<polygon points="190.73,-8.33 214.1,0.17 205.67,23.35 182.3,14.84" fill="#4a4479" stroke="#4a4479" stroke-width="0.6"/>
<polygon points="228.9,1.2 840.9,223.9 762.3,439.8 150.3,217.1" fill="none" stroke="#000" stroke-width="2.4" stroke-linejoin="miter"/>
<circle cx="388.3" cy="416.6" r="26.2" fill="#56779e" stroke="#000" stroke-width="1.5"/>
<circle cx="498.2" cy="397.2" r="26.2" fill="#577b9f" stroke="#000" stroke-width="1.5"/>
<circle cx="569.4" cy="482.6" r="26.2" fill="#ffffff" stroke="#000" stroke-width="1.5"/>
<circle cx="459.7" cy="502.3" r="26.2" fill="#525b8c" stroke="#000" stroke-width="1.5"/>
<circle cx="350.1" cy="521.4" r="26.2" fill="#50638f" stroke="#000" stroke-width="1.5"/>
<circle cx="531.3" cy="587.4" r="26.2" fill="#ffffff" stroke="#000" stroke-width="1.5"/>
<circle cx="421.6" cy="606.8" r="26.2" fill="#536e99" stroke="#000" stroke-width="1.5"/>
<path d="M489.1,214.4L501.5,226.8M489.1,226.8L501.5,214.4" stroke="#000" stroke-width="3.6"/>
<circle cx="187.1" cy="663.2" r="26.0" fill="#000"/>
<rect x="761.6" y="23.6" width="44" height="4.4" fill="#000"/>
<text x="783.8" y="66.6" font-size="27.8" text-anchor="middle" >200 pc</text>
</g></g>
<rect x="1211.6" y="14.5" width="676.2" height="684.9" fill="none" stroke="#333" stroke-width="1.2"/>
<text x="1222.66" y="732.2" font-size="30.4" text-anchor="middle" >9<tspan dx="0.6" dy="-11.7" font-size="19.46">h</tspan><tspan dx="1.4" dy="11.7">56<tspan dx="0.6" dy="-11.7" font-size="19.46">m</tspan><tspan dx="1.4" dy="11.7">10.0<tspan dx="0.6" dy="-11.7" font-size="19.46">s</tspan><tspan dx="1.4" dy="11.7"></tspan></tspan></tspan></text>
<text x="1403.74" y="732.2" font-size="30.4" text-anchor="middle" >00.0<tspan dx="0.6" dy="-11.7" font-size="19.46">s</tspan><tspan dx="1.4" dy="11.7"></tspan></text>
<text x="1584.82" y="732.2" font-size="30.4" text-anchor="middle" >55<tspan dx="0.6" dy="-11.7" font-size="19.46">m</tspan><tspan dx="1.4" dy="11.7">50.0<tspan dx="0.6" dy="-11.7" font-size="19.46">s</tspan><tspan dx="1.4" dy="11.7"></tspan></tspan></text>
<text x="1765.91" y="732.2" font-size="30.4" text-anchor="middle" >40.0<tspan dx="0.6" dy="-11.7" font-size="19.46">s</tspan><tspan dx="1.4" dy="11.7"></tspan></text>
<text x="1203.2" y="201.5" font-size="30.4" text-anchor="end" >69°41'</text>
<text x="1203.2" y="409.6" font-size="30.4" text-anchor="end" >40'</text>
<text x="1203.2" y="617.7" font-size="30.4" text-anchor="end" >39'</text>
<path d="M1222.66,699.4v5M1222.66,14.5v-5M1267.93,699.4v2.6M1267.93,14.5v-2.6M1313.2,699.4v2.6M1313.2,14.5v-2.6M1358.47,699.4v2.6M1358.47,14.5v-2.6M1403.74,699.4v5M1403.74,14.5v-5M1449.01,699.4v2.6M1449.01,14.5v-2.6M1494.28,699.4v2.6M1494.28,14.5v-2.6M1539.55,699.4v2.6M1539.55,14.5v-2.6M1584.82,699.4v5M1584.82,14.5v-5M1630.09,699.4v2.6M1630.09,14.5v-2.6M1675.37,699.4v2.6M1675.37,14.5v-2.6M1720.64,699.4v2.6M1720.64,14.5v-2.6M1765.91,699.4v5M1765.91,14.5v-5M1811.18,699.4v2.6M1811.18,14.5v-2.6M1856.45,699.4v2.6M1856.45,14.5v-2.6M1211.6,36.23h-2.6M1887.8,36.23h2.6M1211.6,88.25h-2.6M1887.8,88.25h2.6M1211.6,140.28h-2.6M1887.8,140.28h2.6M1211.6,192.3h-5M1887.8,192.3h5M1211.6,244.33h-2.6M1887.8,244.33h2.6M1211.6,296.35h-2.6M1887.8,296.35h2.6M1211.6,348.38h-2.6M1887.8,348.38h2.6M1211.6,400.4h-5M1887.8,400.4h5M1211.6,452.43h-2.6M1887.8,452.43h2.6M1211.6,504.45h-2.6M1887.8,504.45h2.6M1211.6,556.48h-2.6M1887.8,556.48h2.6M1211.6,608.5h-5M1887.8,608.5h5M1211.6,660.53h-2.6M1887.8,660.53h2.6" stroke="#000" stroke-width="1.1" fill="none"/>
<text x="1549.7" y="776.6" font-size="30.4" text-anchor="middle" >R.A. (J2000)</text>
<text x="0" y="0" font-size="30.4" text-anchor="middle" transform="translate(1081.3,356.95) rotate(-90)">Decl. (J2000)</text>
<linearGradient id="cg2" x1="0" y1="699.4" x2="0" y2="47.2" gradientUnits="userSpaceOnUse"><stop offset="0.0000" stop-color="#3e2b50"/><stop offset="0.0156" stop-color="#3f2e54"/><stop offset="0.0312" stop-color="#403059"/><stop offset="0.0469" stop-color="#41335d"/><stop offset="0.0625" stop-color="#433561"/><stop offset="0.0781" stop-color="#443866"/><stop offset="0.0938" stop-color="#453a6a"/><stop offset="0.1094" stop-color="#463d6e"/><stop offset="0.1250" stop-color="#473f73"/><stop offset="0.1406" stop-color="#484377"/><stop offset="0.1562" stop-color="#48467b"/><stop offset="0.1719" stop-color="#494a7f"/><stop offset="0.1875" stop-color="#494d83"/><stop offset="0.2031" stop-color="#4a5187"/><stop offset="0.2188" stop-color="#4b548a"/><stop offset="0.2344" stop-color="#4b588d"/><stop offset="0.2500" stop-color="#4c5b8f"/><stop offset="0.2656" stop-color="#4d5f91"/><stop offset="0.2812" stop-color="#4e6293"/><stop offset="0.2969" stop-color="#4f6695"/><stop offset="0.3125" stop-color="#4f6a98"/><stop offset="0.3281" stop-color="#506e9a"/><stop offset="0.3438" stop-color="#51719c"/><stop offset="0.3594" stop-color="#52769d"/><stop offset="0.3750" stop-color="#547a9e"/><stop offset="0.3906" stop-color="#557f9f"/><stop offset="0.4062" stop-color="#5784a0"/><stop offset="0.4219" stop-color="#5889a2"/><stop offset="0.4375" stop-color="#5a8ea4"/><stop offset="0.4531" stop-color="#5b93a6"/><stop offset="0.4688" stop-color="#5d98a8"/><stop offset="0.4844" stop-color="#619daa"/><stop offset="0.5000" stop-color="#66a2ab"/><stop offset="0.5156" stop-color="#6aa7ac"/><stop offset="0.5312" stop-color="#6eacae"/><stop offset="0.5469" stop-color="#72b1af"/><stop offset="0.5625" stop-color="#76b6b0"/><stop offset="0.5781" stop-color="#7abbb2"/><stop offset="0.5938" stop-color="#7fbeb3"/><stop offset="0.6094" stop-color="#83c1b5"/><stop offset="0.6250" stop-color="#88c4b6"/><stop offset="0.6406" stop-color="#8cc7b8"/><stop offset="0.6562" stop-color="#90c9b9"/><stop offset="0.6719" stop-color="#95ccbb"/><stop offset="0.6875" stop-color="#99cfbd"/><stop offset="0.7031" stop-color="#9ed2be"/><stop offset="0.7188" stop-color="#a2d4c0"/><stop offset="0.7344" stop-color="#a6d7c1"/><stop offset="0.7500" stop-color="#acdac4"/><stop offset="0.7656" stop-color="#b2dcc6"/><stop offset="0.7812" stop-color="#b7dfc9"/><stop offset="0.7969" stop-color="#bde1cc"/><stop offset="0.8125" stop-color="#c3e4ce"/><stop offset="0.8281" stop-color="#c8e6d1"/><stop offset="0.8438" stop-color="#cee8d3"/><stop offset="0.8594" stop-color="#d2ead6"/><stop offset="0.8750" stop-color="#d5ebd8"/><stop offset="0.8906" stop-color="#d9edda"/><stop offset="0.9062" stop-color="#dceedc"/><stop offset="0.9219" stop-color="#e0efde"/><stop offset="0.9375" stop-color="#e3f1e0"/><stop offset="0.9531" stop-color="#e7f2e3"/><stop offset="0.9688" stop-color="#eaf3e5"/><stop offset="0.9844" stop-color="#ecf5e7"/><stop offset="1.0000" stop-color="#eef6ea"/></linearGradient>
<rect x="1935.5" y="47.2" width="32.8" height="652.2" fill="url(#cg2)"/>
<polygon points="1935.5,47.2 1951.9,15 1968.3,47.2" fill="#eef6ea"/>
<path d="M1935.5,699.4L1968.3,699.4L1968.3,47.2L1951.9,15L1935.5,47.2Z" fill="none" stroke="#000" stroke-width="1.1" stroke-linejoin="miter"/>
<text x="1976.9" y="82.7" font-size="30.4" text-anchor="start" >1000</text>
<text x="1976.9" y="158.1" font-size="30.4" text-anchor="start" >500</text>
<text x="1976.9" y="233" font-size="30.4" text-anchor="start" >250</text>
<text x="1976.9" y="332.8" font-size="30.4" text-anchor="start" >100</text>
<text x="1976.9" y="407.9" font-size="30.4" text-anchor="start" >50</text>
<text x="1976.9" y="482.3" font-size="30.4" text-anchor="start" >25</text>
<text x="1976.9" y="574.5" font-size="30.4" text-anchor="start" >10</text>
<text x="1976.9" y="630.7" font-size="30.4" text-anchor="start" >5</text>
<text x="1976.9" y="710.4" font-size="30.4" text-anchor="start" >0</text>
<path d="M1968.3,71.3h4.6M1968.3,146.7h4.6M1968.3,221.6h4.6M1968.3,321.4h4.6M1968.3,396.5h4.6M1968.3,470.9h4.6M1968.3,563.1h4.6M1968.3,619.3h4.6M1968.3,699h4.6" stroke="#000" stroke-width="1.1"/>
<text x="0" y="0" font-size="29.6" text-anchor="middle" transform="translate(2084,357.3) rotate(-90)">Integrated Intensity (K km s<tspan dx="0.8" dy="-10.8" font-size="18.54">−1</tspan><tspan dx="1" dy="10.8">)</tspan></text>
<clipPath id="clip3"><rect x="154.1" y="803.3" width="689.4" height="698.4"/></clipPath>
<g clip-path="url(#clip3)"><g transform="matrix(1.00701,0,0,1.00663,-0.174,799.072)">
<polygon points="494.54,102.25 517.91,110.75 509.48,133.92 486.11,125.42" fill="#daf0f6" stroke="#daf0f6" stroke-width="0.6"/>
<polygon points="416,99.9 439.37,108.41 430.94,131.58 407.57,123.07" fill="#e65036" stroke="#e65036" stroke-width="0.6"/>
<polygon points="462.74,116.91 486.11,125.42 477.68,148.59 454.31,140.08" fill="#fecc7e" stroke="#fecc7e" stroke-width="0.6"/>
<polygon points="486.11,125.42 509.48,133.92 501.05,157.1 477.68,148.59" fill="#fee090" stroke="#fee090" stroke-width="0.6"/>
<polygon points="509.48,133.92 532.85,142.43 524.42,165.6 501.05,157.1" fill="#bfe3ef" stroke="#bfe3ef" stroke-width="0.6"/>
<polygon points="532.85,142.43 556.22,150.94 547.79,174.11 524.42,165.6" fill="#fffebe" stroke="#fffebe" stroke-width="0.6"/>
<polygon points="556.22,150.94 579.59,159.44 571.16,182.62 547.79,174.11" fill="#bfe3ef" stroke="#bfe3ef" stroke-width="0.6"/>
<polygon points="579.59,159.44 602.96,167.95 594.53,191.12 571.16,182.62" fill="#94c7df" stroke="#94c7df" stroke-width="0.6"/>
<polygon points="602.96,167.95 626.33,176.45 617.9,199.63 594.53,191.12" fill="#578abf" stroke="#578abf" stroke-width="0.6"/>
<polygon points="407.57,123.07 430.94,131.58 422.5,154.75 399.13,146.25" fill="#d83128" stroke="#d83128" stroke-width="0.6"/>
<polygon points="430.94,131.58 454.31,140.08 445.87,163.26 422.5,154.75" fill="#ec5c3b" stroke="#ec5c3b" stroke-width="0.6"/>
<polygon points="454.31,140.08 477.68,148.59 469.24,171.76 445.87,163.26" fill="#f67c4a" stroke="#f67c4a" stroke-width="0.6"/>
<polygon points="477.68,148.59 501.05,157.1 492.61,180.27 469.24,171.76" fill="#fdc173" stroke="#fdc173" stroke-width="0.6"/>
<polygon points="501.05,157.1 524.42,165.6 515.98,188.78 492.61,180.27" fill="#f6fbd0" stroke="#f6fbd0" stroke-width="0.6"/>
<polygon points="524.42,165.6 547.79,174.11 539.35,197.28 515.98,188.78" fill="#cdeaf3" stroke="#cdeaf3" stroke-width="0.6"/>
<polygon points="547.79,174.11 571.16,182.62 562.72,205.79 539.35,197.28" fill="#f0f9db" stroke="#f0f9db" stroke-width="0.6"/>
<polygon points="571.16,182.62 594.53,191.12 586.09,214.29 562.72,205.79" fill="#6095c4" stroke="#6095c4" stroke-width="0.6"/>
<polygon points="594.53,191.12 617.9,199.63 609.46,222.8 586.09,214.29" fill="#a3d3e6" stroke="#a3d3e6" stroke-width="0.6"/>
<polygon points="399.13,146.25 422.5,154.75 414.07,177.92 390.7,169.42" fill="#c21c27" stroke="#c21c27" stroke-width="0.6"/>
<polygon points="422.5,154.75 445.87,163.26 437.44,186.43 414.07,177.92" fill="#d02927" stroke="#d02927" stroke-width="0.6"/>
<polygon points="445.87,163.26 469.24,171.76 460.81,194.94 437.44,186.43" fill="#ee613e" stroke="#ee613e" stroke-width="0.6"/>
<polygon points="469.24,171.76 492.61,180.27 484.18,203.44 460.81,194.94" fill="#fdc173" stroke="#fdc173" stroke-width="0.6"/>
<polygon points="492.61,180.27 515.98,188.78 507.55,211.95 484.18,203.44" fill="#f6fbd0" stroke="#f6fbd0" stroke-width="0.6"/>
<polygon points="515.98,188.78 539.35,197.28 530.92,220.45 507.55,211.95" fill="#c5e6f0" stroke="#c5e6f0" stroke-width="0.6"/>
<polygon points="539.35,197.28 562.72,205.79 554.29,228.96 530.92,220.45" fill="#87bdd9" stroke="#87bdd9" stroke-width="0.6"/>
<polygon points="562.72,205.79 586.09,214.29 577.66,237.47 554.29,228.96" fill="#6297c6" stroke="#6297c6" stroke-width="0.6"/>
<polygon points="586.09,214.29 609.46,222.8 601.03,245.97 577.66,237.47" fill="#588cc0" stroke="#588cc0" stroke-width="0.6"/>
<polygon points="609.46,222.8 632.83,231.31 624.4,254.48 601.03,245.97" fill="#a1d1e5" stroke="#a1d1e5" stroke-width="0.6"/>
<polygon points="632.83,231.31 656.2,239.81 647.77,262.98 624.4,254.48" fill="#cfebf3" stroke="#cfebf3" stroke-width="0.6"/>
<polygon points="367.33,160.91 390.7,169.42 382.26,192.59 358.89,184.09" fill="#be1827" stroke="#be1827" stroke-width="0.6"/>
<polygon points="390.7,169.42 414.07,177.92 405.63,201.1 382.26,192.59" fill="#d42d27" stroke="#d42d27" stroke-width="0.6"/>
<polygon points="414.07,177.92 437.44,186.43 429,209.6 405.63,201.1" fill="#d62f27" stroke="#d62f27" stroke-width="0.6"/>
<polygon points="437.44,186.43 460.81,194.94 452.37,218.11 429,209.6" fill="#ee613e" stroke="#ee613e" stroke-width="0.6"/>
<polygon points="460.81,194.94 484.18,203.44 475.74,226.62 452.37,218.11" fill="#fdbf71" stroke="#fdbf71" stroke-width="0.6"/>
<polygon points="484.18,203.44 507.55,211.95 499.11,235.12 475.74,226.62" fill="#ebf7e4" stroke="#ebf7e4" stroke-width="0.6"/>
<polygon points="507.55,211.95 530.92,220.45 522.48,243.63 499.11,235.12" fill="#acdae9" stroke="#acdae9" stroke-width="0.6"/>
<polygon points="530.92,220.45 554.29,228.96 545.85,252.13 522.48,243.63" fill="#7ab2d4" stroke="#7ab2d4" stroke-width="0.6"/>
<polygon points="554.29,228.96 577.66,237.47 569.22,260.64 545.85,252.13" fill="#578abf" stroke="#578abf" stroke-width="0.6"/>
<polygon points="577.66,237.47 601.03,245.97 592.59,269.15 569.22,260.64" fill="#436fb1" stroke="#436fb1" stroke-width="0.6"/>
<polygon points="601.03,245.97 624.4,254.48 615.96,277.65 592.59,269.15" fill="#6297c6" stroke="#6297c6" stroke-width="0.6"/>
<polygon points="624.4,254.48 647.77,262.98 639.33,286.16 615.96,277.65" fill="#578abf" stroke="#578abf" stroke-width="0.6"/>
<polygon points="358.89,184.09 382.26,192.59 373.83,215.76 350.46,207.26" fill="#c41e27" stroke="#c41e27" stroke-width="0.6"/>
<polygon points="382.26,192.59 405.63,201.1 397.2,224.27 373.83,215.76" fill="#da362a" stroke="#da362a" stroke-width="0.6"/>
<polygon points="405.63,201.1 429,209.6 420.57,232.78 397.2,224.27" fill="#e65036" stroke="#e65036" stroke-width="0.6"/>
<polygon points="429,209.6 452.37,218.11 443.94,241.28 420.57,232.78" fill="#f47044" stroke="#f47044" stroke-width="0.6"/>
<polygon points="452.37,218.11 475.74,226.62 467.31,249.79 443.94,241.28" fill="#fed485" stroke="#fed485" stroke-width="0.6"/>
<polygon points="475.74,226.62 499.11,235.12 490.68,258.29 467.31,249.79" fill="#e1f3f6" stroke="#e1f3f6" stroke-width="0.6"/>
<polygon points="499.11,235.12 522.48,243.63 514.05,266.8 490.68,258.29" fill="#9dcee3" stroke="#9dcee3" stroke-width="0.6"/>
<polygon points="522.48,243.63 545.85,252.13 537.42,275.31 514.05,266.8" fill="#7db4d5" stroke="#7db4d5" stroke-width="0.6"/>
<polygon points="545.85,252.13 569.22,260.64 560.79,283.81 537.42,275.31" fill="#5e93c3" stroke="#5e93c3" stroke-width="0.6"/>
<polygon points="569.22,260.64 592.59,269.15 584.16,292.32 560.79,283.81" fill="#588cc0" stroke="#588cc0" stroke-width="0.6"/>
<polygon points="592.59,269.15 615.96,277.65 607.53,300.82 584.16,292.32" fill="#5385bd" stroke="#5385bd" stroke-width="0.6"/>
<polygon points="615.96,277.65 639.33,286.16 630.9,309.33 607.53,300.82" fill="#aedbea" stroke="#aedbea" stroke-width="0.6"/>
<polygon points="373.83,215.76 397.2,224.27 388.76,247.44 365.39,238.94" fill="#f57245" stroke="#f57245" stroke-width="0.6"/>
<polygon points="397.2,224.27 420.57,232.78 412.14,255.95 388.76,247.44" fill="#f16640" stroke="#f16640" stroke-width="0.6"/>
<polygon points="420.57,232.78 443.94,241.28 435.51,264.46 412.14,255.95" fill="#fcaa5f" stroke="#fcaa5f" stroke-width="0.6"/>
<polygon points="443.94,241.28 467.31,249.79 458.88,272.96 435.51,264.46" fill="#fede8e" stroke="#fede8e" stroke-width="0.6"/>
<polygon points="467.31,249.79 490.68,258.29 482.25,281.47 458.88,272.96" fill="#d4edf4" stroke="#d4edf4" stroke-width="0.6"/>
<polygon points="490.68,258.29 514.05,266.8 505.62,289.97 482.25,281.47" fill="#99cae1" stroke="#99cae1" stroke-width="0.6"/>
<polygon points="514.05,266.8 537.42,275.31 528.99,298.48 505.62,289.97" fill="#97c9e0" stroke="#97c9e0" stroke-width="0.6"/>
<polygon points="537.42,275.31 560.79,283.81 552.36,306.99 528.99,298.48" fill="#acdae9" stroke="#acdae9" stroke-width="0.6"/>
<polygon points="560.79,283.81 584.16,292.32 575.73,315.49 552.36,306.99" fill="#70a9cf" stroke="#70a9cf" stroke-width="0.6"/>
<polygon points="584.16,292.32 607.53,300.82 599.1,324 575.73,315.49" fill="#70a9cf" stroke="#70a9cf" stroke-width="0.6"/>
<polygon points="412.14,255.95 435.51,264.46 427.07,287.63 403.7,279.12" fill="#fede8e" stroke="#fede8e" stroke-width="0.6"/>
<polygon points="435.51,264.46 458.88,272.96 450.44,296.13 427.07,287.63" fill="#feeca2" stroke="#feeca2" stroke-width="0.6"/>
<polygon points="458.88,272.96 482.25,281.47 473.81,304.64 450.44,296.13" fill="#d4edf4" stroke="#d4edf4" stroke-width="0.6"/>
<polygon points="482.25,281.47 505.62,289.97 497.18,313.15 473.81,304.64" fill="#92c5de" stroke="#92c5de" stroke-width="0.6"/>
<polygon points="505.62,289.97 528.99,298.48 520.55,321.65 497.18,313.15" fill="#9dcee3" stroke="#9dcee3" stroke-width="0.6"/>
<polygon points="528.99,298.48 552.36,306.99 543.92,330.16 520.55,321.65" fill="#9fd0e4" stroke="#9fd0e4" stroke-width="0.6"/>
<polygon points="552.36,306.99 575.73,315.49 567.29,338.66 543.92,330.16" fill="#83b9d8" stroke="#83b9d8" stroke-width="0.6"/>
<polygon points="403.7,279.12 427.07,287.63 418.64,310.8 395.27,302.29" fill="#fafdc9" stroke="#fafdc9" stroke-width="0.6"/>
<polygon points="427.07,287.63 450.44,296.13 442.01,319.31 418.64,310.8" fill="#feeda4" stroke="#feeda4" stroke-width="0.6"/>
<polygon points="450.44,296.13 473.81,304.64 465.38,327.81 442.01,319.31" fill="#daf0f6" stroke="#daf0f6" stroke-width="0.6"/>
<polygon points="473.81,304.64 497.18,313.15 488.75,336.32 465.38,327.81" fill="#c3e5f0" stroke="#c3e5f0" stroke-width="0.6"/>
<polygon points="497.18,313.15 520.55,321.65 512.12,344.82 488.75,336.32" fill="#97c9e0" stroke="#97c9e0" stroke-width="0.6"/>
<polygon points="520.55,321.65 543.92,330.16 535.49,353.33 512.12,344.82" fill="#81b7d7" stroke="#81b7d7" stroke-width="0.6"/>
<polygon points="543.92,330.16 567.29,338.66 558.86,361.84 535.49,353.33" fill="#7db4d5" stroke="#7db4d5" stroke-width="0.6"/>
<polygon points="488.75,336.32 512.12,344.82 503.68,368 480.31,359.49" fill="#99cae1" stroke="#99cae1" stroke-width="0.6"/>
<polygon points="356.96,262.11 380.33,270.62 371.9,293.79 348.53,285.28" fill="#c3e5f0" stroke="#c3e5f0" stroke-width="0.6"/>
<polygon points="337.46,97.55 360.83,106.06 352.39,129.23 329.02,120.73" fill="#f67a49" stroke="#f67a49" stroke-width="0.6"/>
<polygon points="329.02,120.73 352.39,129.23 343.96,152.41 320.59,143.9" fill="#f88950" stroke="#f88950" stroke-width="0.6"/>
<polygon points="290.72,80.54 314.09,89.05 305.65,112.22 282.28,103.72" fill="#333b97" stroke="#333b97" stroke-width="0.6"/>
<polygon points="679.57,248.32 702.94,256.82 694.51,280 671.14,271.49" fill="#b6dfec" stroke="#b6dfec" stroke-width="0.6"/>
<polygon points="781.49,259.17 804.86,267.68 796.42,290.85 773.05,282.34" fill="#a90426" stroke="#a90426" stroke-width="0.6"/>
<polygon points="182.3,14.84 205.67,23.35 197.23,46.52 173.86,38.01" fill="#f7fcce" stroke="#f7fcce" stroke-width="0.6"/>
<polygon points="190.73,-8.33 214.1,0.17 205.67,23.35 182.3,14.84" fill="#a50026" stroke="#a50026" stroke-width="0.6"/>
<polygon points="228.9,1.2 840.9,223.9 762.3,439.8 150.3,217.1" fill="none" stroke="#000" stroke-width="2.4" stroke-linejoin="miter"/>
<circle cx="388.3" cy="416.6" r="26.2" fill="#87bdd9" stroke="#000" stroke-width="1.5"/>
<circle cx="498.2" cy="397.2" r="26.2" fill="#daf0f6" stroke="#000" stroke-width="1.5"/>
<circle cx="569.4" cy="482.6" r="26.2" fill="#ffffff" stroke="#000" stroke-width="1.5"/>
<circle cx="459.7" cy="502.3" r="26.2" fill="#8abeda" stroke="#000" stroke-width="1.5"/>
<circle cx="350.1" cy="521.4" r="26.2" fill="#8abeda" stroke="#000" stroke-width="1.5"/>
<circle cx="531.3" cy="587.4" r="26.2" fill="#ffffff" stroke="#000" stroke-width="1.5"/>
<circle cx="421.6" cy="606.8" r="26.2" fill="#c3e5f0" stroke="#000" stroke-width="1.5"/>
<path d="M489.1,214.4L501.5,226.8M489.1,226.8L501.5,214.4" stroke="#000" stroke-width="3.6"/>
<circle cx="187.1" cy="663.2" r="26.0" fill="#000"/>
<rect x="761.6" y="23.6" width="44" height="4.4" fill="#000"/>
<text x="783.8" y="66.6" font-size="27.8" text-anchor="middle" >200 pc</text>
</g></g>
<rect x="154.1" y="803.3" width="689.4" height="698.4" fill="none" stroke="#333" stroke-width="1.2"/>
<text x="165.38" y="1534.5" font-size="30.4" text-anchor="middle" >9<tspan dx="0.6" dy="-11.7" font-size="19.46">h</tspan><tspan dx="1.4" dy="11.7">56<tspan dx="0.6" dy="-11.7" font-size="19.46">m</tspan><tspan dx="1.4" dy="11.7">10.0<tspan dx="0.6" dy="-11.7" font-size="19.46">s</tspan><tspan dx="1.4" dy="11.7"></tspan></tspan></tspan></text>
<text x="349.99" y="1534.5" font-size="30.4" text-anchor="middle" >00.0<tspan dx="0.6" dy="-11.7" font-size="19.46">s</tspan><tspan dx="1.4" dy="11.7"></tspan></text>
<text x="534.61" y="1534.5" font-size="30.4" text-anchor="middle" >55<tspan dx="0.6" dy="-11.7" font-size="19.46">m</tspan><tspan dx="1.4" dy="11.7">50.0<tspan dx="0.6" dy="-11.7" font-size="19.46">s</tspan><tspan dx="1.4" dy="11.7"></tspan></tspan></text>
<text x="719.23" y="1534.5" font-size="30.4" text-anchor="middle" >40.0<tspan dx="0.6" dy="-11.7" font-size="19.46">s</tspan><tspan dx="1.4" dy="11.7"></tspan></text>
<text x="145.7" y="993.8" font-size="30.4" text-anchor="end" >69°41'</text>
<text x="145.7" y="1206.01" font-size="30.4" text-anchor="end" >40'</text>
<text x="145.7" y="1418.21" font-size="30.4" text-anchor="end" >39'</text>
<path d="M165.38,1501.7v5M165.38,803.3v-5M211.53,1501.7v2.6M211.53,803.3v-2.6M257.69,1501.7v2.6M257.69,803.3v-2.6M303.84,1501.7v2.6M303.84,803.3v-2.6M349.99,1501.7v5M349.99,803.3v-5M396.15,1501.7v2.6M396.15,803.3v-2.6M442.3,1501.7v2.6M442.3,803.3v-2.6M488.46,1501.7v2.6M488.46,803.3v-2.6M534.61,1501.7v5M534.61,803.3v-5M580.76,1501.7v2.6M580.76,803.3v-2.6M626.92,1501.7v2.6M626.92,803.3v-2.6M673.07,1501.7v2.6M673.07,803.3v-2.6M719.23,1501.7v5M719.23,803.3v-5M765.38,1501.7v2.6M765.38,803.3v-2.6M811.53,1501.7v2.6M811.53,803.3v-2.6M154.1,825.45h-2.6M843.5,825.45h2.6M154.1,878.5h-2.6M843.5,878.5h2.6M154.1,931.55h-2.6M843.5,931.55h2.6M154.1,984.6h-5M843.5,984.6h5M154.1,1037.66h-2.6M843.5,1037.66h2.6M154.1,1090.71h-2.6M843.5,1090.71h2.6M154.1,1143.76h-2.6M843.5,1143.76h2.6M154.1,1196.81h-5M843.5,1196.81h5M154.1,1249.86h-2.6M843.5,1249.86h2.6M154.1,1302.91h-2.6M843.5,1302.91h2.6M154.1,1355.96h-2.6M843.5,1355.96h2.6M154.1,1409.01h-5M843.5,1409.01h5M154.1,1462.06h-2.6M843.5,1462.06h2.6" stroke="#000" stroke-width="1.1" fill="none"/>
<text x="498.8" y="1578.9" font-size="30.4" text-anchor="middle" >R.A. (J2000)</text>
<text x="0" y="0" font-size="30.4" text-anchor="middle" transform="translate(23.8,1152.5) rotate(-90)">Decl. (J2000)</text>
<linearGradient id="cg3" x1="0" y1="1469.7" x2="0" y2="834.5" gradientUnits="userSpaceOnUse"><stop offset="0.0000" stop-color="#313695"/><stop offset="0.0156" stop-color="#34409a"/><stop offset="0.0312" stop-color="#374a9f"/><stop offset="0.0469" stop-color="#3a54a4"/><stop offset="0.0625" stop-color="#3e5ea8"/><stop offset="0.0781" stop-color="#4167ad"/><stop offset="0.0938" stop-color="#4471b2"/><stop offset="0.1094" stop-color="#4a7ab7"/><stop offset="0.1250" stop-color="#5183bb"/><stop offset="0.1406" stop-color="#588cc0"/><stop offset="0.1562" stop-color="#6095c4"/><stop offset="0.1719" stop-color="#679ec9"/><stop offset="0.1875" stop-color="#6ea6ce"/><stop offset="0.2031" stop-color="#76afd2"/><stop offset="0.2188" stop-color="#7fb6d6"/><stop offset="0.2344" stop-color="#87bdd9"/><stop offset="0.2500" stop-color="#90c3dd"/><stop offset="0.2656" stop-color="#99cae1"/><stop offset="0.2812" stop-color="#a1d1e5"/><stop offset="0.2969" stop-color="#aad8e9"/><stop offset="0.3125" stop-color="#b2ddeb"/><stop offset="0.3281" stop-color="#bbe1ed"/><stop offset="0.3438" stop-color="#c3e5f0"/><stop offset="0.3594" stop-color="#cbe9f2"/><stop offset="0.3750" stop-color="#d4edf4"/><stop offset="0.3906" stop-color="#dcf1f7"/><stop offset="0.4062" stop-color="#e2f4f4"/><stop offset="0.4219" stop-color="#e7f6eb"/><stop offset="0.4375" stop-color="#ecf8e2"/><stop offset="0.4531" stop-color="#f1fad9"/><stop offset="0.4688" stop-color="#f6fbd0"/><stop offset="0.4844" stop-color="#fbfdc7"/><stop offset="0.5000" stop-color="#fffebe"/><stop offset="0.5156" stop-color="#fffab7"/><stop offset="0.5312" stop-color="#fff5af"/><stop offset="0.5469" stop-color="#fff0a8"/><stop offset="0.5625" stop-color="#feeba1"/><stop offset="0.5781" stop-color="#fee699"/><stop offset="0.5938" stop-color="#fee192"/><stop offset="0.6094" stop-color="#feda8a"/><stop offset="0.6250" stop-color="#fed283"/><stop offset="0.6406" stop-color="#feca7c"/><stop offset="0.6562" stop-color="#fdc374"/><stop offset="0.6719" stop-color="#fdbb6d"/><stop offset="0.6875" stop-color="#fdb366"/><stop offset="0.7031" stop-color="#fcaa5f"/><stop offset="0.7188" stop-color="#fba05b"/><stop offset="0.7344" stop-color="#fa9656"/><stop offset="0.7500" stop-color="#f88c51"/><stop offset="0.7656" stop-color="#f7814c"/><stop offset="0.7812" stop-color="#f57748"/><stop offset="0.7969" stop-color="#f46d43"/><stop offset="0.8125" stop-color="#ef633f"/><stop offset="0.8281" stop-color="#eb5a3a"/><stop offset="0.8438" stop-color="#e65036"/><stop offset="0.8594" stop-color="#e24731"/><stop offset="0.8750" stop-color="#dd3d2d"/><stop offset="0.8906" stop-color="#d93429"/><stop offset="0.9062" stop-color="#d22b27"/><stop offset="0.9219" stop-color="#ca2427"/><stop offset="0.9375" stop-color="#c21c27"/><stop offset="0.9531" stop-color="#bb1526"/><stop offset="0.9688" stop-color="#b30d26"/><stop offset="0.9844" stop-color="#ab0626"/><stop offset="1.0000" stop-color="#a50026"/></linearGradient>
<rect x="892.3" y="834.5" width="32.3" height="635.2" fill="url(#cg3)"/>
<polygon points="892.3,1469.7 908.45,1500.5 924.6,1469.7" fill="#313695"/>
<polygon points="892.3,834.5 908.45,803.6 924.6,834.5" fill="#a50026"/>
<path d="M892.3,1153H924.6" stroke="#7f7f7f" stroke-width="3"/>
<path d="M892.3,1469.7L908.45,1500.5L924.6,1469.7L924.6,834.5L908.45,803.6L892.3,834.5Z" fill="none" stroke="#000" stroke-width="1.1" stroke-linejoin="miter"/>
<text x="933.2" y="936.2" font-size="30.4" text-anchor="start" >300</text>
<text x="933.2" y="1063.2" font-size="30.4" text-anchor="start" >250</text>
<text x="933.2" y="1190.2" font-size="30.4" text-anchor="start" >200</text>
<text x="933.2" y="1317.3" font-size="30.4" text-anchor="start" >150</text>
<text x="933.2" y="1443.4" font-size="30.4" text-anchor="start" >100</text>
<path d="M924.6,924.8h4.6M924.6,1051.8h4.6M924.6,1178.8h4.6M924.6,1305.9h4.6M924.6,1432h4.6" stroke="#000" stroke-width="1.1"/>
<text x="0" y="0" font-size="30.4" text-anchor="middle" transform="translate(1023.3,1152.5) rotate(-90)">Velocity (km s<tspan dx="0.8" dy="-10.8" font-size="18.54">−1</tspan><tspan dx="1" dy="10.8">)</tspan></text>
<clipPath id="clip4"><rect x="1214.4" y="805.1" width="688.6" height="696.8"/></clipPath>
<g clip-path="url(#clip4)"><g transform="matrix(1.00584,0,0,1.00432,1060.305,800.882)">
<polygon points="494.54,102.25 517.91,110.75 509.48,133.92 486.11,125.42" fill="#440154" stroke="#440154" stroke-width="0.6"/>
<polygon points="416,99.9 439.37,108.41 430.94,131.58 407.57,123.07" fill="#355f8d" stroke="#355f8d" stroke-width="0.6"/>
<polygon points="462.74,116.91 486.11,125.42 477.68,148.59 454.31,140.08" fill="#482475" stroke="#482475" stroke-width="0.6"/>
<polygon points="486.11,125.42 509.48,133.92 501.05,157.1 477.68,148.59" fill="#44bf70" stroke="#44bf70" stroke-width="0.6"/>
<polygon points="509.48,133.92 532.85,142.43 524.42,165.6 501.05,157.1" fill="#453781" stroke="#453781" stroke-width="0.6"/>
<polygon points="532.85,142.43 556.22,150.94 547.79,174.11 524.42,165.6" fill="#ece51b" stroke="#ece51b" stroke-width="0.6"/>
<polygon points="556.22,150.94 579.59,159.44 571.16,182.62 547.79,174.11" fill="#29af7f" stroke="#29af7f" stroke-width="0.6"/>
<polygon points="579.59,159.44 602.96,167.95 594.53,191.12 571.16,182.62" fill="#482878" stroke="#482878" stroke-width="0.6"/>
<polygon points="602.96,167.95 626.33,176.45 617.9,199.63 594.53,191.12" fill="#3bbb75" stroke="#3bbb75" stroke-width="0.6"/>
<polygon points="407.57,123.07 430.94,131.58 422.5,154.75 399.13,146.25" fill="#287d8e" stroke="#287d8e" stroke-width="0.6"/>
<polygon points="430.94,131.58 454.31,140.08 445.87,163.26 422.5,154.75" fill="#38588c" stroke="#38588c" stroke-width="0.6"/>
<polygon points="454.31,140.08 477.68,148.59 469.24,171.76 445.87,163.26" fill="#26ad81" stroke="#26ad81" stroke-width="0.6"/>
<polygon points="477.68,148.59 501.05,157.1 492.61,180.27 469.24,171.76" fill="#a2da37" stroke="#a2da37" stroke-width="0.6"/>
<polygon points="501.05,157.1 524.42,165.6 515.98,188.78 492.61,180.27" fill="#7ad151" stroke="#7ad151" stroke-width="0.6"/>
<polygon points="524.42,165.6 547.79,174.11 539.35,197.28 515.98,188.78" fill="#4ec36b" stroke="#4ec36b" stroke-width="0.6"/>
<polygon points="547.79,174.11 571.16,182.62 562.72,205.79 539.35,197.28" fill="#fde725" stroke="#fde725" stroke-width="0.6"/>
<polygon points="571.16,182.62 594.53,191.12 586.09,214.29 562.72,205.79" fill="#21918c" stroke="#21918c" stroke-width="0.6"/>
<polygon points="594.53,191.12 617.9,199.63 609.46,222.8 586.09,214.29" fill="#3a548c" stroke="#3a548c" stroke-width="0.6"/>
<polygon points="399.13,146.25 422.5,154.75 414.07,177.92 390.7,169.42" fill="#228b8d" stroke="#228b8d" stroke-width="0.6"/>
<polygon points="422.5,154.75 445.87,163.26 437.44,186.43 414.07,177.92" fill="#287d8e" stroke="#287d8e" stroke-width="0.6"/>
<polygon points="445.87,163.26 469.24,171.76 460.81,194.94 437.44,186.43" fill="#2cb17e" stroke="#2cb17e" stroke-width="0.6"/>
<polygon points="469.24,171.76 492.61,180.27 484.18,203.44 460.81,194.94" fill="#a8db34" stroke="#a8db34" stroke-width="0.6"/>
<polygon points="492.61,180.27 515.98,188.78 507.55,211.95 484.18,203.44" fill="#cae11f" stroke="#cae11f" stroke-width="0.6"/>
<polygon points="515.98,188.78 539.35,197.28 530.92,220.45 507.55,211.95" fill="#a8db34" stroke="#a8db34" stroke-width="0.6"/>
<polygon points="539.35,197.28 562.72,205.79 554.29,228.96 530.92,220.45" fill="#3bbb75" stroke="#3bbb75" stroke-width="0.6"/>
<polygon points="562.72,205.79 586.09,214.29 577.66,237.47 554.29,228.96" fill="#21918c" stroke="#21918c" stroke-width="0.6"/>
<polygon points="586.09,214.29 609.46,222.8 601.03,245.97 577.66,237.47" fill="#23898e" stroke="#23898e" stroke-width="0.6"/>
<polygon points="609.46,222.8 632.83,231.31 624.4,254.48 601.03,245.97" fill="#287d8e" stroke="#287d8e" stroke-width="0.6"/>
<polygon points="632.83,231.31 656.2,239.81 647.77,262.98 624.4,254.48" fill="#2d718e" stroke="#2d718e" stroke-width="0.6"/>
<polygon points="367.33,160.91 390.7,169.42 382.26,192.59 358.89,184.09" fill="#31678e" stroke="#31678e" stroke-width="0.6"/>
<polygon points="390.7,169.42 414.07,177.92 405.63,201.1 382.26,192.59" fill="#1f958b" stroke="#1f958b" stroke-width="0.6"/>
<polygon points="414.07,177.92 437.44,186.43 429,209.6 405.63,201.1" fill="#1f958b" stroke="#1f958b" stroke-width="0.6"/>
<polygon points="437.44,186.43 460.81,194.94 452.37,218.11 429,209.6" fill="#3fbc73" stroke="#3fbc73" stroke-width="0.6"/>
<polygon points="460.81,194.94 484.18,203.44 475.74,226.62 452.37,218.11" fill="#cae11f" stroke="#cae11f" stroke-width="0.6"/>
<polygon points="484.18,203.44 507.55,211.95 499.11,235.12 475.74,226.62" fill="#ece51b" stroke="#ece51b" stroke-width="0.6"/>
<polygon points="507.55,211.95 530.92,220.45 522.48,243.63 499.11,235.12" fill="#69cd5b" stroke="#69cd5b" stroke-width="0.6"/>
<polygon points="530.92,220.45 554.29,228.96 545.85,252.13 522.48,243.63" fill="#29af7f" stroke="#29af7f" stroke-width="0.6"/>
<polygon points="554.29,228.96 577.66,237.47 569.22,260.64 545.85,252.13" fill="#21918c" stroke="#21918c" stroke-width="0.6"/>
<polygon points="577.66,237.47 601.03,245.97 592.59,269.15 569.22,260.64" fill="#1f978b" stroke="#1f978b" stroke-width="0.6"/>
<polygon points="601.03,245.97 624.4,254.48 615.96,277.65 592.59,269.15" fill="#1f9a8a" stroke="#1f9a8a" stroke-width="0.6"/>
<polygon points="624.4,254.48 647.77,262.98 639.33,286.16 615.96,277.65" fill="#463480" stroke="#463480" stroke-width="0.6"/>
<polygon points="358.89,184.09 382.26,192.59 373.83,215.76 350.46,207.26" fill="#2c738e" stroke="#2c738e" stroke-width="0.6"/>
<polygon points="382.26,192.59 405.63,201.1 397.2,224.27 373.83,215.76" fill="#26828e" stroke="#26828e" stroke-width="0.6"/>
<polygon points="405.63,201.1 429,209.6 420.57,232.78 397.2,224.27" fill="#1f9a8a" stroke="#1f9a8a" stroke-width="0.6"/>
<polygon points="429,209.6 452.37,218.11 443.94,241.28 420.57,232.78" fill="#44bf70" stroke="#44bf70" stroke-width="0.6"/>
<polygon points="452.37,218.11 475.74,226.62 467.31,249.79 443.94,241.28" fill="#d8e219" stroke="#d8e219" stroke-width="0.6"/>
<polygon points="475.74,226.62 499.11,235.12 490.68,258.29 467.31,249.79" fill="#cae11f" stroke="#cae11f" stroke-width="0.6"/>
<polygon points="499.11,235.12 522.48,243.63 514.05,266.8 490.68,258.29" fill="#69cd5b" stroke="#69cd5b" stroke-width="0.6"/>
<polygon points="522.48,243.63 545.85,252.13 537.42,275.31 514.05,266.8" fill="#29af7f" stroke="#29af7f" stroke-width="0.6"/>
<polygon points="545.85,252.13 569.22,260.64 560.79,283.81 537.42,275.31" fill="#20928c" stroke="#20928c" stroke-width="0.6"/>
<polygon points="569.22,260.64 592.59,269.15 584.16,292.32 560.79,283.81" fill="#1f9a8a" stroke="#1f9a8a" stroke-width="0.6"/>
<polygon points="592.59,269.15 615.96,277.65 607.53,300.82 584.16,292.32" fill="#2a788e" stroke="#2a788e" stroke-width="0.6"/>
<polygon points="615.96,277.65 639.33,286.16 630.9,309.33 607.53,300.82" fill="#443a83" stroke="#443a83" stroke-width="0.6"/>
<polygon points="373.83,215.76 397.2,224.27 388.76,247.44 365.39,238.94" fill="#1fa188" stroke="#1fa188" stroke-width="0.6"/>
<polygon points="397.2,224.27 420.57,232.78 412.14,255.95 388.76,247.44" fill="#21a685" stroke="#21a685" stroke-width="0.6"/>
<polygon points="420.57,232.78 443.94,241.28 435.51,264.46 412.14,255.95" fill="#4ec36b" stroke="#4ec36b" stroke-width="0.6"/>
<polygon points="443.94,241.28 467.31,249.79 458.88,272.96 435.51,264.46" fill="#9bd93c" stroke="#9bd93c" stroke-width="0.6"/>
<polygon points="467.31,249.79 490.68,258.29 482.25,281.47 458.88,272.96" fill="#58c765" stroke="#58c765" stroke-width="0.6"/>
<polygon points="490.68,258.29 514.05,266.8 505.62,289.97 482.25,281.47" fill="#26ad81" stroke="#26ad81" stroke-width="0.6"/>
<polygon points="514.05,266.8 537.42,275.31 528.99,298.48 505.62,289.97" fill="#21a685" stroke="#21a685" stroke-width="0.6"/>
<polygon points="537.42,275.31 560.79,283.81 552.36,306.99 528.99,298.48" fill="#27808e" stroke="#27808e" stroke-width="0.6"/>
<polygon points="560.79,283.81 584.16,292.32 575.73,315.49 552.36,306.99" fill="#297a8e" stroke="#297a8e" stroke-width="0.6"/>
<polygon points="584.16,292.32 607.53,300.82 599.1,324 575.73,315.49" fill="#443a83" stroke="#443a83" stroke-width="0.6"/>
<polygon points="412.14,255.95 435.51,264.46 427.07,287.63 403.7,279.12" fill="#228b8d" stroke="#228b8d" stroke-width="0.6"/>
<polygon points="435.51,264.46 458.88,272.96 450.44,296.13 427.07,287.63" fill="#4ec36b" stroke="#4ec36b" stroke-width="0.6"/>
<polygon points="458.88,272.96 482.25,281.47 473.81,304.64 450.44,296.13" fill="#26ad81" stroke="#26ad81" stroke-width="0.6"/>
<polygon points="482.25,281.47 505.62,289.97 497.18,313.15 473.81,304.64" fill="#23898e" stroke="#23898e" stroke-width="0.6"/>
<polygon points="505.62,289.97 528.99,298.48 520.55,321.65 497.18,313.15" fill="#1f9a8a" stroke="#1f9a8a" stroke-width="0.6"/>
<polygon points="528.99,298.48 552.36,306.99 543.92,330.16 520.55,321.65" fill="#2a788e" stroke="#2a788e" stroke-width="0.6"/>
<polygon points="552.36,306.99 575.73,315.49 567.29,338.66 543.92,330.16" fill="#2d718e" stroke="#2d718e" stroke-width="0.6"/>
<polygon points="403.7,279.12 427.07,287.63 418.64,310.8 395.27,302.29" fill="#443a83" stroke="#443a83" stroke-width="0.6"/>
<polygon points="427.07,287.63 450.44,296.13 442.01,319.31 418.64,310.8" fill="#440154" stroke="#440154" stroke-width="0.6"/>
<polygon points="450.44,296.13 473.81,304.64 465.38,327.81 442.01,319.31" fill="#1e9c89" stroke="#1e9c89" stroke-width="0.6"/>
<polygon points="473.81,304.64 497.18,313.15 488.75,336.32 465.38,327.81" fill="#3e4c8a" stroke="#3e4c8a" stroke-width="0.6"/>
<polygon points="497.18,313.15 520.55,321.65 512.12,344.82 488.75,336.32" fill="#2e6f8e" stroke="#2e6f8e" stroke-width="0.6"/>
<polygon points="520.55,321.65 543.92,330.16 535.49,353.33 512.12,344.82" fill="#2e6f8e" stroke="#2e6f8e" stroke-width="0.6"/>
<polygon points="543.92,330.16 567.29,338.66 558.86,361.84 535.49,353.33" fill="#463480" stroke="#463480" stroke-width="0.6"/>
<polygon points="488.75,336.32 512.12,344.82 503.68,368 480.31,359.49" fill="#440154" stroke="#440154" stroke-width="0.6"/>
<polygon points="356.96,262.11 380.33,270.62 371.9,293.79 348.53,285.28" fill="#2f6c8e" stroke="#2f6c8e" stroke-width="0.6"/>
<polygon points="337.46,97.55 360.83,106.06 352.39,129.23 329.02,120.73" fill="#440154" stroke="#440154" stroke-width="0.6"/>
<polygon points="329.02,120.73 352.39,129.23 343.96,152.41 320.59,143.9" fill="#365d8d" stroke="#365d8d" stroke-width="0.6"/>
<polygon points="290.72,80.54 314.09,89.05 305.65,112.22 282.28,103.72" fill="#482475" stroke="#482475" stroke-width="0.6"/>
<polygon points="679.57,248.32 702.94,256.82 694.51,280 671.14,271.49" fill="#46085c" stroke="#46085c" stroke-width="0.6"/>
<polygon points="781.49,259.17 804.86,267.68 796.42,290.85 773.05,282.34" fill="#32648e" stroke="#32648e" stroke-width="0.6"/>
<polygon points="182.3,14.84 205.67,23.35 197.23,46.52 173.86,38.01" fill="#fde725" stroke="#fde725" stroke-width="0.6"/>
<polygon points="190.73,-8.33 214.1,0.17 205.67,23.35 182.3,14.84" fill="#440154" stroke="#440154" stroke-width="0.6"/>
<polygon points="228.9,1.2 840.9,223.9 762.3,439.8 150.3,217.1" fill="none" stroke="#000" stroke-width="2.4" stroke-linejoin="miter"/>
<circle cx="388.3" cy="416.6" r="26.2" fill="#1f978b" stroke="#000" stroke-width="1.5"/>
<circle cx="498.2" cy="397.2" r="26.2" fill="#26828e" stroke="#000" stroke-width="1.5"/>
<circle cx="569.4" cy="482.6" r="26.2" fill="#ffffff" stroke="#000" stroke-width="1.5"/>
<circle cx="459.7" cy="502.3" r="26.2" fill="#1f978b" stroke="#000" stroke-width="1.5"/>
<circle cx="350.1" cy="521.4" r="26.2" fill="#218e8d" stroke="#000" stroke-width="1.5"/>
<circle cx="531.3" cy="587.4" r="26.2" fill="#ffffff" stroke="#000" stroke-width="1.5"/>
<circle cx="421.6" cy="606.8" r="26.2" fill="#2fb47c" stroke="#000" stroke-width="1.5"/>
<path d="M489.1,214.4L501.5,226.8M489.1,226.8L501.5,214.4" stroke="#000" stroke-width="3.6"/>
<circle cx="187.1" cy="663.2" r="26.0" fill="#000"/>
<rect x="761.6" y="23.6" width="44" height="4.4" fill="#000"/>
<text x="783.8" y="66.6" font-size="27.8" text-anchor="middle" >200 pc</text>
</g></g>
<rect x="1214.4" y="805.1" width="688.6" height="696.8" fill="none" stroke="#333" stroke-width="1.2"/>
<text x="1225.67" y="1534.7" font-size="30.4" text-anchor="middle" >9<tspan dx="0.6" dy="-11.7" font-size="19.46">h</tspan><tspan dx="1.4" dy="11.7">56<tspan dx="0.6" dy="-11.7" font-size="19.46">m</tspan><tspan dx="1.4" dy="11.7">10.0<tspan dx="0.6" dy="-11.7" font-size="19.46">s</tspan><tspan dx="1.4" dy="11.7"></tspan></tspan></tspan></text>
<text x="1410.07" y="1534.7" font-size="30.4" text-anchor="middle" >00.0<tspan dx="0.6" dy="-11.7" font-size="19.46">s</tspan><tspan dx="1.4" dy="11.7"></tspan></text>
<text x="1594.47" y="1534.7" font-size="30.4" text-anchor="middle" >55<tspan dx="0.6" dy="-11.7" font-size="19.46">m</tspan><tspan dx="1.4" dy="11.7">50.0<tspan dx="0.6" dy="-11.7" font-size="19.46">s</tspan><tspan dx="1.4" dy="11.7"></tspan></tspan></text>
<text x="1778.87" y="1534.7" font-size="30.4" text-anchor="middle" >40.0<tspan dx="0.6" dy="-11.7" font-size="19.46">s</tspan><tspan dx="1.4" dy="11.7"></tspan></text>
<text x="1206" y="995.19" font-size="30.4" text-anchor="end" >69°41'</text>
<text x="1206" y="1206.9" font-size="30.4" text-anchor="end" >40'</text>
<text x="1206" y="1418.62" font-size="30.4" text-anchor="end" >39'</text>
<path d="M1225.67,1501.9v5M1225.67,805.1v-5M1271.77,1501.9v2.6M1271.77,805.1v-2.6M1317.87,1501.9v2.6M1317.87,805.1v-2.6M1363.97,1501.9v2.6M1363.97,805.1v-2.6M1410.07,1501.9v5M1410.07,805.1v-5M1456.17,1501.9v2.6M1456.17,805.1v-2.6M1502.27,1501.9v2.6M1502.27,805.1v-2.6M1548.37,1501.9v2.6M1548.37,805.1v-2.6M1594.47,1501.9v5M1594.47,805.1v-5M1640.57,1501.9v2.6M1640.57,805.1v-2.6M1686.67,1501.9v2.6M1686.67,805.1v-2.6M1732.77,1501.9v2.6M1732.77,805.1v-2.6M1778.87,1501.9v5M1778.87,805.1v-5M1824.97,1501.9v2.6M1824.97,805.1v-2.6M1871.07,1501.9v2.6M1871.07,805.1v-2.6M1214.4,827.2h-2.6M1903,827.2h2.6M1214.4,880.13h-2.6M1903,880.13h2.6M1214.4,933.06h-2.6M1903,933.06h2.6M1214.4,985.99h-5M1903,985.99h5M1214.4,1038.92h-2.6M1903,1038.92h2.6M1214.4,1091.85h-2.6M1903,1091.85h2.6M1214.4,1144.78h-2.6M1903,1144.78h2.6M1214.4,1197.7h-5M1903,1197.7h5M1214.4,1250.63h-2.6M1903,1250.63h2.6M1214.4,1303.56h-2.6M1903,1303.56h2.6M1214.4,1356.49h-2.6M1903,1356.49h2.6M1214.4,1409.42h-5M1903,1409.42h5M1214.4,1462.35h-2.6M1903,1462.35h2.6" stroke="#000" stroke-width="1.1" fill="none"/>
<text x="1558.7" y="1579.1" font-size="30.4" text-anchor="middle" >R.A. (J2000)</text>
<text x="0" y="0" font-size="30.4" text-anchor="middle" transform="translate(1084.1,1153.5) rotate(-90)">Decl. (J2000)</text>
<linearGradient id="cg4" x1="0" y1="1501.9" x2="0" y2="836.8" gradientUnits="userSpaceOnUse"><stop offset="0.0000" stop-color="#440154"/><stop offset="0.0156" stop-color="#46075a"/><stop offset="0.0312" stop-color="#470d60"/><stop offset="0.0469" stop-color="#471365"/><stop offset="0.0625" stop-color="#48186a"/><stop offset="0.0781" stop-color="#481d6f"/><stop offset="0.0938" stop-color="#482374"/><stop offset="0.1094" stop-color="#482878"/><stop offset="0.1250" stop-color="#472d7b"/><stop offset="0.1406" stop-color="#46327e"/><stop offset="0.1562" stop-color="#453781"/><stop offset="0.1719" stop-color="#443b84"/><stop offset="0.1875" stop-color="#424086"/><stop offset="0.2031" stop-color="#404588"/><stop offset="0.2188" stop-color="#3e4989"/><stop offset="0.2344" stop-color="#3d4e8a"/><stop offset="0.2500" stop-color="#3b528b"/><stop offset="0.2656" stop-color="#39568c"/><stop offset="0.2812" stop-color="#375b8d"/><stop offset="0.2969" stop-color="#355f8d"/><stop offset="0.3125" stop-color="#33638d"/><stop offset="0.3281" stop-color="#31678e"/><stop offset="0.3438" stop-color="#2f6b8e"/><stop offset="0.3594" stop-color="#2e6f8e"/><stop offset="0.3750" stop-color="#2c728e"/><stop offset="0.3906" stop-color="#2a768e"/><stop offset="0.4062" stop-color="#297a8e"/><stop offset="0.4219" stop-color="#277e8e"/><stop offset="0.4375" stop-color="#26828e"/><stop offset="0.4531" stop-color="#25858e"/><stop offset="0.4688" stop-color="#23898e"/><stop offset="0.4844" stop-color="#228d8d"/><stop offset="0.5000" stop-color="#21918c"/><stop offset="0.5156" stop-color="#1f948c"/><stop offset="0.5312" stop-color="#1f988b"/><stop offset="0.5469" stop-color="#1e9c89"/><stop offset="0.5625" stop-color="#1fa088"/><stop offset="0.5781" stop-color="#20a386"/><stop offset="0.5938" stop-color="#22a785"/><stop offset="0.6094" stop-color="#25ab82"/><stop offset="0.6250" stop-color="#28ae80"/><stop offset="0.6406" stop-color="#2db27d"/><stop offset="0.6562" stop-color="#32b67a"/><stop offset="0.6719" stop-color="#38b977"/><stop offset="0.6875" stop-color="#3fbc73"/><stop offset="0.7031" stop-color="#46c06f"/><stop offset="0.7188" stop-color="#4ec36b"/><stop offset="0.7344" stop-color="#56c667"/><stop offset="0.7500" stop-color="#5ec962"/><stop offset="0.7656" stop-color="#67cc5c"/><stop offset="0.7812" stop-color="#70cf57"/><stop offset="0.7969" stop-color="#7ad151"/><stop offset="0.8125" stop-color="#84d44b"/><stop offset="0.8281" stop-color="#8ed645"/><stop offset="0.8438" stop-color="#98d83e"/><stop offset="0.8594" stop-color="#a2da37"/><stop offset="0.8750" stop-color="#addc30"/><stop offset="0.8906" stop-color="#b8de29"/><stop offset="0.9062" stop-color="#c2df23"/><stop offset="0.9219" stop-color="#cde11d"/><stop offset="0.9375" stop-color="#d8e219"/><stop offset="0.9531" stop-color="#e2e418"/><stop offset="0.9688" stop-color="#ece51b"/><stop offset="0.9844" stop-color="#f6e620"/><stop offset="1.0000" stop-color="#fde725"/></linearGradient>
<rect x="1952.3" y="836.8" width="33.2" height="665.1" fill="url(#cg4)"/>
<polygon points="1952.3,836.8 1968.9,804.5 1985.5,836.8" fill="#fde725"/>
<path d="M1952.3,1501.9L1985.5,1501.9L1985.5,836.8L1968.9,804.5L1952.3,836.8Z" fill="none" stroke="#000" stroke-width="1.1" stroke-linejoin="miter"/>
<text x="1994.1" y="1513.7" font-size="30.4" text-anchor="start" >0</text>
<text x="1994.1" y="1437.85" font-size="30.4" text-anchor="start" >20</text>
<text x="1994.1" y="1362" font-size="30.4" text-anchor="start" >40</text>
<text x="1994.1" y="1286.15" font-size="30.4" text-anchor="start" >60</text>
<text x="1994.1" y="1210.3" font-size="30.4" text-anchor="start" >80</text>
<text x="1994.1" y="1134.45" font-size="30.4" text-anchor="start" >100</text>
<text x="1994.1" y="1058.6" font-size="30.4" text-anchor="start" >120</text>
<text x="1994.1" y="982.75" font-size="30.4" text-anchor="start" >140</text>
<text x="1994.1" y="906.9" font-size="30.4" text-anchor="start" >160</text>
<path d="M1985.5,1502.3h4.6M1985.5,1426.45h4.6M1985.5,1350.6h4.6M1985.5,1274.75h4.6M1985.5,1198.9h4.6M1985.5,1123.05h4.6M1985.5,1047.2h4.6M1985.5,971.35h4.6M1985.5,895.5h4.6" stroke="#000" stroke-width="1.1"/>
<text x="0" y="0" font-size="30.4" text-anchor="middle" transform="translate(2084.5,1153.5) rotate(-90)">Linewidth (km s<tspan dx="0.8" dy="-10.8" font-size="18.54">−1</tspan><tspan dx="1" dy="10.8">)</tspan></text></svg></body></html>
